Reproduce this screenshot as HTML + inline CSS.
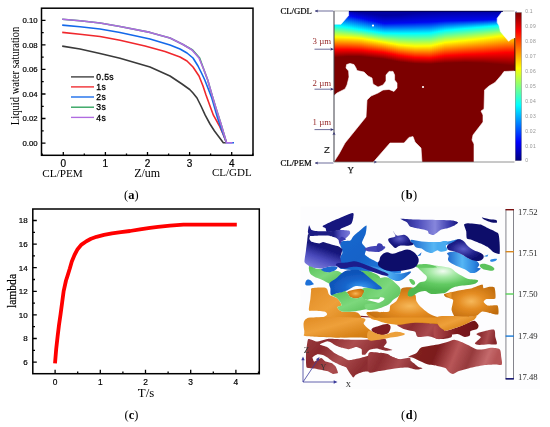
<!DOCTYPE html>
<html><head><meta charset="utf-8"><title>Figure</title>
<style>
html,body{margin:0;padding:0;background:#fff;}
svg{display:block}
.ss{font-family:"Liberation Sans",sans-serif}
.sf{font-family:"Liberation Serif",serif}
.tk{stroke:#000;stroke-width:0.2px}
.cap{font-family:"Liberation Serif","DejaVu Serif",serif;font-size:12.4px}
</style></head><body>
<svg width="550" height="427" viewBox="0 0 550 427">
<defs>
<linearGradient id="b0" x1="0" y1="0" x2="0" y2="1"><stop offset="0.000" stop-color="#0004c7"/><stop offset="0.051" stop-color="#0008f0"/><stop offset="0.237" stop-color="#00ffff"/><stop offset="0.427" stop-color="#ffff00"/><stop offset="0.631" stop-color="#ff0000"/><stop offset="0.761" stop-color="#7c0000"/></linearGradient>
<linearGradient id="b1" x1="0" y1="0" x2="0" y2="1"><stop offset="0.000" stop-color="#0004c4"/><stop offset="0.054" stop-color="#0008f0"/><stop offset="0.242" stop-color="#00ffff"/><stop offset="0.428" stop-color="#ffff00"/><stop offset="0.631" stop-color="#ff0000"/><stop offset="0.759" stop-color="#7c0000"/></linearGradient>
<linearGradient id="b2" x1="0" y1="0" x2="0" y2="1"><stop offset="0.000" stop-color="#0003c1"/><stop offset="0.058" stop-color="#0008f0"/><stop offset="0.247" stop-color="#00ffff"/><stop offset="0.429" stop-color="#ffff00"/><stop offset="0.631" stop-color="#ff0000"/><stop offset="0.756" stop-color="#7c0000"/></linearGradient>
<linearGradient id="b3" x1="0" y1="0" x2="0" y2="1"><stop offset="0.000" stop-color="#0003be"/><stop offset="0.061" stop-color="#0008f0"/><stop offset="0.252" stop-color="#00ffff"/><stop offset="0.430" stop-color="#ffff00"/><stop offset="0.631" stop-color="#ff0000"/><stop offset="0.754" stop-color="#7c0000"/></linearGradient>
<linearGradient id="b4" x1="0" y1="0" x2="0" y2="1"><stop offset="0.000" stop-color="#0003bb"/><stop offset="0.065" stop-color="#0008f0"/><stop offset="0.258" stop-color="#00ffff"/><stop offset="0.431" stop-color="#ffff00"/><stop offset="0.631" stop-color="#ff0000"/><stop offset="0.752" stop-color="#7c0000"/></linearGradient>
<linearGradient id="b5" x1="0" y1="0" x2="0" y2="1"><stop offset="0.000" stop-color="#0002b8"/><stop offset="0.069" stop-color="#0008f0"/><stop offset="0.263" stop-color="#00ffff"/><stop offset="0.433" stop-color="#ffff00"/><stop offset="0.631" stop-color="#ff0000"/><stop offset="0.749" stop-color="#7c0000"/></linearGradient>
<linearGradient id="b6" x1="0" y1="0" x2="0" y2="1"><stop offset="0.000" stop-color="#0002b5"/><stop offset="0.072" stop-color="#0008f0"/><stop offset="0.268" stop-color="#00ffff"/><stop offset="0.434" stop-color="#ffff00"/><stop offset="0.631" stop-color="#ff0000"/><stop offset="0.747" stop-color="#7c0000"/></linearGradient>
<linearGradient id="b7" x1="0" y1="0" x2="0" y2="1"><stop offset="0.000" stop-color="#0002b1"/><stop offset="0.077" stop-color="#0008f0"/><stop offset="0.273" stop-color="#00ffff"/><stop offset="0.435" stop-color="#ffff00"/><stop offset="0.632" stop-color="#ff0000"/><stop offset="0.746" stop-color="#7c0000"/></linearGradient>
<linearGradient id="b8" x1="0" y1="0" x2="0" y2="1"><stop offset="0.000" stop-color="#0001aa"/><stop offset="0.084" stop-color="#0008f0"/><stop offset="0.279" stop-color="#00ffff"/><stop offset="0.437" stop-color="#ffff00"/><stop offset="0.633" stop-color="#ff0000"/><stop offset="0.746" stop-color="#7c0000"/></linearGradient>
<linearGradient id="b9" x1="0" y1="0" x2="0" y2="1"><stop offset="0.000" stop-color="#0000a3"/><stop offset="0.091" stop-color="#0008f0"/><stop offset="0.285" stop-color="#00ffff"/><stop offset="0.439" stop-color="#ffff00"/><stop offset="0.635" stop-color="#ff0000"/><stop offset="0.746" stop-color="#7c0000"/></linearGradient>
<linearGradient id="b10" x1="0" y1="0" x2="0" y2="1"><stop offset="0.004" stop-color="#0000a0"/><stop offset="0.098" stop-color="#0008f0"/><stop offset="0.291" stop-color="#00ffff"/><stop offset="0.441" stop-color="#ffff00"/><stop offset="0.636" stop-color="#ff0000"/><stop offset="0.746" stop-color="#7c0000"/></linearGradient>
<linearGradient id="b11" x1="0" y1="0" x2="0" y2="1"><stop offset="0.012" stop-color="#0000a0"/><stop offset="0.105" stop-color="#0008f0"/><stop offset="0.296" stop-color="#00ffff"/><stop offset="0.443" stop-color="#ffff00"/><stop offset="0.637" stop-color="#ff0000"/><stop offset="0.746" stop-color="#7c0000"/></linearGradient>
<linearGradient id="b12" x1="0" y1="0" x2="0" y2="1"><stop offset="0.020" stop-color="#0000a0"/><stop offset="0.111" stop-color="#0008f0"/><stop offset="0.302" stop-color="#00ffff"/><stop offset="0.445" stop-color="#ffff00"/><stop offset="0.639" stop-color="#ff0000"/><stop offset="0.746" stop-color="#7c0000"/></linearGradient>
<linearGradient id="b13" x1="0" y1="0" x2="0" y2="1"><stop offset="0.027" stop-color="#0000a0"/><stop offset="0.119" stop-color="#0008f0"/><stop offset="0.307" stop-color="#00ffff"/><stop offset="0.449" stop-color="#ffff00"/><stop offset="0.641" stop-color="#ff0000"/><stop offset="0.748" stop-color="#7c0000"/></linearGradient>
<linearGradient id="b14" x1="0" y1="0" x2="0" y2="1"><stop offset="0.031" stop-color="#0000a0"/><stop offset="0.126" stop-color="#0008f0"/><stop offset="0.312" stop-color="#00ffff"/><stop offset="0.454" stop-color="#ffff00"/><stop offset="0.644" stop-color="#ff0000"/><stop offset="0.751" stop-color="#7c0000"/></linearGradient>
<linearGradient id="b15" x1="0" y1="0" x2="0" y2="1"><stop offset="0.035" stop-color="#0000a0"/><stop offset="0.134" stop-color="#0008f0"/><stop offset="0.317" stop-color="#00ffff"/><stop offset="0.460" stop-color="#ffff00"/><stop offset="0.648" stop-color="#ff0000"/><stop offset="0.754" stop-color="#7c0000"/></linearGradient>
<linearGradient id="b16" x1="0" y1="0" x2="0" y2="1"><stop offset="0.039" stop-color="#0000a0"/><stop offset="0.141" stop-color="#0008f0"/><stop offset="0.322" stop-color="#00ffff"/><stop offset="0.465" stop-color="#ffff00"/><stop offset="0.651" stop-color="#ff0000"/><stop offset="0.758" stop-color="#7c0000"/></linearGradient>
<linearGradient id="b17" x1="0" y1="0" x2="0" y2="1"><stop offset="0.043" stop-color="#0000a0"/><stop offset="0.149" stop-color="#0008f0"/><stop offset="0.327" stop-color="#00ffff"/><stop offset="0.470" stop-color="#ffff00"/><stop offset="0.655" stop-color="#ff0000"/><stop offset="0.761" stop-color="#7c0000"/></linearGradient>
<linearGradient id="b18" x1="0" y1="0" x2="0" y2="1"><stop offset="0.047" stop-color="#0000a0"/><stop offset="0.156" stop-color="#0008f0"/><stop offset="0.332" stop-color="#00ffff"/><stop offset="0.476" stop-color="#ffff00"/><stop offset="0.658" stop-color="#ff0000"/><stop offset="0.765" stop-color="#7c0000"/></linearGradient>
<linearGradient id="b19" x1="0" y1="0" x2="0" y2="1"><stop offset="0.051" stop-color="#0000a0"/><stop offset="0.164" stop-color="#0008f0"/><stop offset="0.337" stop-color="#00ffff"/><stop offset="0.481" stop-color="#ffff00"/><stop offset="0.662" stop-color="#ff0000"/><stop offset="0.768" stop-color="#7c0000"/></linearGradient>
<linearGradient id="b20" x1="0" y1="0" x2="0" y2="1"><stop offset="0.055" stop-color="#0000a0"/><stop offset="0.171" stop-color="#0008f0"/><stop offset="0.342" stop-color="#00ffff"/><stop offset="0.487" stop-color="#ffff00"/><stop offset="0.665" stop-color="#ff0000"/><stop offset="0.772" stop-color="#7c0000"/></linearGradient>
<linearGradient id="b21" x1="0" y1="0" x2="0" y2="1"><stop offset="0.059" stop-color="#0000a0"/><stop offset="0.179" stop-color="#0008f0"/><stop offset="0.347" stop-color="#00ffff"/><stop offset="0.492" stop-color="#ffff00"/><stop offset="0.668" stop-color="#ff0000"/><stop offset="0.775" stop-color="#7c0000"/></linearGradient>
<linearGradient id="b22" x1="0" y1="0" x2="0" y2="1"><stop offset="0.064" stop-color="#0000a0"/><stop offset="0.186" stop-color="#0008f0"/><stop offset="0.352" stop-color="#00ffff"/><stop offset="0.498" stop-color="#ffff00"/><stop offset="0.672" stop-color="#ff0000"/><stop offset="0.778" stop-color="#7c0000"/></linearGradient>
<linearGradient id="b23" x1="0" y1="0" x2="0" y2="1"><stop offset="0.068" stop-color="#0000a0"/><stop offset="0.194" stop-color="#0008f0"/><stop offset="0.357" stop-color="#00ffff"/><stop offset="0.503" stop-color="#ffff00"/><stop offset="0.675" stop-color="#ff0000"/><stop offset="0.782" stop-color="#7c0000"/></linearGradient>
<linearGradient id="b24" x1="0" y1="0" x2="0" y2="1"><stop offset="0.072" stop-color="#0000a0"/><stop offset="0.201" stop-color="#0008f0"/><stop offset="0.361" stop-color="#00ffff"/><stop offset="0.509" stop-color="#ffff00"/><stop offset="0.679" stop-color="#ff0000"/><stop offset="0.785" stop-color="#7c0000"/></linearGradient>
<linearGradient id="b25" x1="0" y1="0" x2="0" y2="1"><stop offset="0.073" stop-color="#0000a0"/><stop offset="0.204" stop-color="#0008f0"/><stop offset="0.364" stop-color="#00ffff"/><stop offset="0.514" stop-color="#ffff00"/><stop offset="0.684" stop-color="#ff0000"/><stop offset="0.790" stop-color="#7c0000"/></linearGradient>
<linearGradient id="b26" x1="0" y1="0" x2="0" y2="1"><stop offset="0.072" stop-color="#0000a0"/><stop offset="0.203" stop-color="#0008f0"/><stop offset="0.365" stop-color="#00ffff"/><stop offset="0.520" stop-color="#ffff00"/><stop offset="0.690" stop-color="#ff0000"/><stop offset="0.796" stop-color="#7c0000"/></linearGradient>
<linearGradient id="b27" x1="0" y1="0" x2="0" y2="1"><stop offset="0.071" stop-color="#0000a0"/><stop offset="0.202" stop-color="#0008f0"/><stop offset="0.365" stop-color="#00ffff"/><stop offset="0.526" stop-color="#ffff00"/><stop offset="0.696" stop-color="#ff0000"/><stop offset="0.802" stop-color="#7c0000"/></linearGradient>
<linearGradient id="b28" x1="0" y1="0" x2="0" y2="1"><stop offset="0.070" stop-color="#0000a0"/><stop offset="0.201" stop-color="#0008f0"/><stop offset="0.366" stop-color="#00ffff"/><stop offset="0.532" stop-color="#ffff00"/><stop offset="0.703" stop-color="#ff0000"/><stop offset="0.808" stop-color="#7c0000"/></linearGradient>
<linearGradient id="b29" x1="0" y1="0" x2="0" y2="1"><stop offset="0.069" stop-color="#0000a0"/><stop offset="0.200" stop-color="#0008f0"/><stop offset="0.367" stop-color="#00ffff"/><stop offset="0.537" stop-color="#ffff00"/><stop offset="0.709" stop-color="#ff0000"/><stop offset="0.815" stop-color="#7c0000"/></linearGradient>
<linearGradient id="b30" x1="0" y1="0" x2="0" y2="1"><stop offset="0.068" stop-color="#0000a0"/><stop offset="0.199" stop-color="#0008f0"/><stop offset="0.367" stop-color="#00ffff"/><stop offset="0.543" stop-color="#ffff00"/><stop offset="0.715" stop-color="#ff0000"/><stop offset="0.821" stop-color="#7c0000"/></linearGradient>
<linearGradient id="b31" x1="0" y1="0" x2="0" y2="1"><stop offset="0.067" stop-color="#0000a0"/><stop offset="0.198" stop-color="#0008f0"/><stop offset="0.368" stop-color="#00ffff"/><stop offset="0.549" stop-color="#ffff00"/><stop offset="0.722" stop-color="#ff0000"/><stop offset="0.827" stop-color="#7c0000"/></linearGradient>
<linearGradient id="b32" x1="0" y1="0" x2="0" y2="1"><stop offset="0.066" stop-color="#0000a0"/><stop offset="0.197" stop-color="#0008f0"/><stop offset="0.369" stop-color="#00ffff"/><stop offset="0.555" stop-color="#ffff00"/><stop offset="0.728" stop-color="#ff0000"/><stop offset="0.833" stop-color="#7c0000"/></linearGradient>
<linearGradient id="b33" x1="0" y1="0" x2="0" y2="1"><stop offset="0.063" stop-color="#0000a0"/><stop offset="0.196" stop-color="#0008f0"/><stop offset="0.369" stop-color="#00ffff"/><stop offset="0.559" stop-color="#ffff00"/><stop offset="0.733" stop-color="#ff0000"/><stop offset="0.838" stop-color="#7c0000"/></linearGradient>
<linearGradient id="b34" x1="0" y1="0" x2="0" y2="1"><stop offset="0.059" stop-color="#0000a0"/><stop offset="0.195" stop-color="#0008f0"/><stop offset="0.369" stop-color="#00ffff"/><stop offset="0.561" stop-color="#ffff00"/><stop offset="0.737" stop-color="#ff0000"/><stop offset="0.841" stop-color="#7c0000"/></linearGradient>
<linearGradient id="b35" x1="0" y1="0" x2="0" y2="1"><stop offset="0.055" stop-color="#0000a0"/><stop offset="0.194" stop-color="#0008f0"/><stop offset="0.369" stop-color="#00ffff"/><stop offset="0.564" stop-color="#ffff00"/><stop offset="0.742" stop-color="#ff0000"/><stop offset="0.845" stop-color="#7c0000"/></linearGradient>
<linearGradient id="b36" x1="0" y1="0" x2="0" y2="1"><stop offset="0.050" stop-color="#0000a0"/><stop offset="0.193" stop-color="#0008f0"/><stop offset="0.369" stop-color="#00ffff"/><stop offset="0.567" stop-color="#ffff00"/><stop offset="0.746" stop-color="#ff0000"/><stop offset="0.848" stop-color="#7c0000"/></linearGradient>
<linearGradient id="b37" x1="0" y1="0" x2="0" y2="1"><stop offset="0.046" stop-color="#0000a0"/><stop offset="0.192" stop-color="#0008f0"/><stop offset="0.369" stop-color="#00ffff"/><stop offset="0.569" stop-color="#ffff00"/><stop offset="0.750" stop-color="#ff0000"/><stop offset="0.852" stop-color="#7c0000"/></linearGradient>
<linearGradient id="b38" x1="0" y1="0" x2="0" y2="1"><stop offset="0.042" stop-color="#0000a0"/><stop offset="0.191" stop-color="#0008f0"/><stop offset="0.369" stop-color="#00ffff"/><stop offset="0.572" stop-color="#ffff00"/><stop offset="0.754" stop-color="#ff0000"/><stop offset="0.855" stop-color="#7c0000"/></linearGradient>
<linearGradient id="b39" x1="0" y1="0" x2="0" y2="1"><stop offset="0.037" stop-color="#0000a0"/><stop offset="0.190" stop-color="#0008f0"/><stop offset="0.369" stop-color="#00ffff"/><stop offset="0.574" stop-color="#ffff00"/><stop offset="0.758" stop-color="#ff0000"/><stop offset="0.859" stop-color="#7c0000"/></linearGradient>
<linearGradient id="b40" x1="0" y1="0" x2="0" y2="1"><stop offset="0.033" stop-color="#0000a0"/><stop offset="0.189" stop-color="#0008f0"/><stop offset="0.369" stop-color="#00ffff"/><stop offset="0.577" stop-color="#ffff00"/><stop offset="0.762" stop-color="#ff0000"/><stop offset="0.862" stop-color="#7c0000"/></linearGradient>
<linearGradient id="b41" x1="0" y1="0" x2="0" y2="1"><stop offset="0.031" stop-color="#0000a0"/><stop offset="0.187" stop-color="#0008f0"/><stop offset="0.368" stop-color="#00ffff"/><stop offset="0.577" stop-color="#ffff00"/><stop offset="0.763" stop-color="#ff0000"/><stop offset="0.863" stop-color="#7c0000"/></linearGradient>
<linearGradient id="b42" x1="0" y1="0" x2="0" y2="1"><stop offset="0.028" stop-color="#0000a0"/><stop offset="0.186" stop-color="#0008f0"/><stop offset="0.368" stop-color="#00ffff"/><stop offset="0.576" stop-color="#ffff00"/><stop offset="0.764" stop-color="#ff0000"/><stop offset="0.864" stop-color="#7c0000"/></linearGradient>
<linearGradient id="b43" x1="0" y1="0" x2="0" y2="1"><stop offset="0.026" stop-color="#0000a0"/><stop offset="0.185" stop-color="#0008f0"/><stop offset="0.367" stop-color="#00ffff"/><stop offset="0.576" stop-color="#ffff00"/><stop offset="0.766" stop-color="#ff0000"/><stop offset="0.865" stop-color="#7c0000"/></linearGradient>
<linearGradient id="b44" x1="0" y1="0" x2="0" y2="1"><stop offset="0.024" stop-color="#0000a0"/><stop offset="0.184" stop-color="#0008f0"/><stop offset="0.366" stop-color="#00ffff"/><stop offset="0.575" stop-color="#ffff00"/><stop offset="0.767" stop-color="#ff0000"/><stop offset="0.866" stop-color="#7c0000"/></linearGradient>
<linearGradient id="b45" x1="0" y1="0" x2="0" y2="1"><stop offset="0.022" stop-color="#0000a0"/><stop offset="0.183" stop-color="#0008f0"/><stop offset="0.366" stop-color="#00ffff"/><stop offset="0.575" stop-color="#ffff00"/><stop offset="0.768" stop-color="#ff0000"/><stop offset="0.867" stop-color="#7c0000"/></linearGradient>
<linearGradient id="b46" x1="0" y1="0" x2="0" y2="1"><stop offset="0.020" stop-color="#0000a0"/><stop offset="0.182" stop-color="#0008f0"/><stop offset="0.365" stop-color="#00ffff"/><stop offset="0.574" stop-color="#ffff00"/><stop offset="0.769" stop-color="#ff0000"/><stop offset="0.868" stop-color="#7c0000"/></linearGradient>
<linearGradient id="b47" x1="0" y1="0" x2="0" y2="1"><stop offset="0.017" stop-color="#0000a0"/><stop offset="0.181" stop-color="#0008f0"/><stop offset="0.364" stop-color="#00ffff"/><stop offset="0.574" stop-color="#ffff00"/><stop offset="0.770" stop-color="#ff0000"/><stop offset="0.868" stop-color="#7c0000"/></linearGradient>
<linearGradient id="b48" x1="0" y1="0" x2="0" y2="1"><stop offset="0.016" stop-color="#0000a0"/><stop offset="0.179" stop-color="#0008f0"/><stop offset="0.361" stop-color="#00ffff"/><stop offset="0.570" stop-color="#ffff00"/><stop offset="0.768" stop-color="#ff0000"/><stop offset="0.868" stop-color="#7c0000"/></linearGradient>
<linearGradient id="b49" x1="0" y1="0" x2="0" y2="1"><stop offset="0.015" stop-color="#0000a0"/><stop offset="0.177" stop-color="#0008f0"/><stop offset="0.355" stop-color="#00ffff"/><stop offset="0.562" stop-color="#ffff00"/><stop offset="0.763" stop-color="#ff0000"/><stop offset="0.866" stop-color="#7c0000"/></linearGradient>
<linearGradient id="b50" x1="0" y1="0" x2="0" y2="1"><stop offset="0.014" stop-color="#0000a0"/><stop offset="0.175" stop-color="#0008f0"/><stop offset="0.349" stop-color="#00ffff"/><stop offset="0.555" stop-color="#ffff00"/><stop offset="0.758" stop-color="#ff0000"/><stop offset="0.863" stop-color="#7c0000"/></linearGradient>
<linearGradient id="b51" x1="0" y1="0" x2="0" y2="1"><stop offset="0.013" stop-color="#0000a0"/><stop offset="0.173" stop-color="#0008f0"/><stop offset="0.343" stop-color="#00ffff"/><stop offset="0.547" stop-color="#ffff00"/><stop offset="0.753" stop-color="#ff0000"/><stop offset="0.861" stop-color="#7c0000"/></linearGradient>
<linearGradient id="b52" x1="0" y1="0" x2="0" y2="1"><stop offset="0.011" stop-color="#0000a0"/><stop offset="0.170" stop-color="#0008f0"/><stop offset="0.337" stop-color="#00ffff"/><stop offset="0.539" stop-color="#ffff00"/><stop offset="0.748" stop-color="#ff0000"/><stop offset="0.859" stop-color="#7c0000"/></linearGradient>
<linearGradient id="b53" x1="0" y1="0" x2="0" y2="1"><stop offset="0.010" stop-color="#0000a0"/><stop offset="0.168" stop-color="#0008f0"/><stop offset="0.331" stop-color="#00ffff"/><stop offset="0.532" stop-color="#ffff00"/><stop offset="0.743" stop-color="#ff0000"/><stop offset="0.857" stop-color="#7c0000"/></linearGradient>
<linearGradient id="b54" x1="0" y1="0" x2="0" y2="1"><stop offset="0.009" stop-color="#0000a0"/><stop offset="0.166" stop-color="#0008f0"/><stop offset="0.326" stop-color="#00ffff"/><stop offset="0.524" stop-color="#ffff00"/><stop offset="0.738" stop-color="#ff0000"/><stop offset="0.855" stop-color="#7c0000"/></linearGradient>
<linearGradient id="b55" x1="0" y1="0" x2="0" y2="1"><stop offset="0.008" stop-color="#0000a0"/><stop offset="0.164" stop-color="#0008f0"/><stop offset="0.320" stop-color="#00ffff"/><stop offset="0.516" stop-color="#ffff00"/><stop offset="0.733" stop-color="#ff0000"/><stop offset="0.852" stop-color="#7c0000"/></linearGradient>
<linearGradient id="b56" x1="0" y1="0" x2="0" y2="1"><stop offset="0.007" stop-color="#0000a0"/><stop offset="0.163" stop-color="#0008f0"/><stop offset="0.316" stop-color="#00ffff"/><stop offset="0.513" stop-color="#ffff00"/><stop offset="0.731" stop-color="#ff0000"/><stop offset="0.852" stop-color="#7c0000"/></linearGradient>
<linearGradient id="b57" x1="0" y1="0" x2="0" y2="1"><stop offset="0.007" stop-color="#0000a0"/><stop offset="0.162" stop-color="#0008f0"/><stop offset="0.313" stop-color="#00ffff"/><stop offset="0.510" stop-color="#ffff00"/><stop offset="0.729" stop-color="#ff0000"/><stop offset="0.851" stop-color="#7c0000"/></linearGradient>
<linearGradient id="b58" x1="0" y1="0" x2="0" y2="1"><stop offset="0.006" stop-color="#0000a0"/><stop offset="0.161" stop-color="#0008f0"/><stop offset="0.310" stop-color="#00ffff"/><stop offset="0.507" stop-color="#ffff00"/><stop offset="0.727" stop-color="#ff0000"/><stop offset="0.850" stop-color="#7c0000"/></linearGradient>
<linearGradient id="b59" x1="0" y1="0" x2="0" y2="1"><stop offset="0.005" stop-color="#0000a0"/><stop offset="0.161" stop-color="#0008f0"/><stop offset="0.307" stop-color="#00ffff"/><stop offset="0.503" stop-color="#ffff00"/><stop offset="0.725" stop-color="#ff0000"/><stop offset="0.849" stop-color="#7c0000"/></linearGradient>
<linearGradient id="b60" x1="0" y1="0" x2="0" y2="1"><stop offset="0.004" stop-color="#0000a0"/><stop offset="0.160" stop-color="#0008f0"/><stop offset="0.303" stop-color="#00ffff"/><stop offset="0.500" stop-color="#ffff00"/><stop offset="0.723" stop-color="#ff0000"/><stop offset="0.848" stop-color="#7c0000"/></linearGradient>
<linearGradient id="b61" x1="0" y1="0" x2="0" y2="1"><stop offset="0.003" stop-color="#0000a0"/><stop offset="0.159" stop-color="#0008f0"/><stop offset="0.300" stop-color="#00ffff"/><stop offset="0.497" stop-color="#ffff00"/><stop offset="0.721" stop-color="#ff0000"/><stop offset="0.848" stop-color="#7c0000"/></linearGradient>
<linearGradient id="b62" x1="0" y1="0" x2="0" y2="1"><stop offset="0.002" stop-color="#0000a0"/><stop offset="0.158" stop-color="#0008f0"/><stop offset="0.297" stop-color="#00ffff"/><stop offset="0.493" stop-color="#ffff00"/><stop offset="0.719" stop-color="#ff0000"/><stop offset="0.847" stop-color="#7c0000"/></linearGradient>
<linearGradient id="b63" x1="0" y1="0" x2="0" y2="1"><stop offset="0.002" stop-color="#0000a0"/><stop offset="0.157" stop-color="#0008f0"/><stop offset="0.293" stop-color="#00ffff"/><stop offset="0.490" stop-color="#ffff00"/><stop offset="0.717" stop-color="#ff0000"/><stop offset="0.846" stop-color="#7c0000"/></linearGradient>
<linearGradient id="b64" x1="0" y1="0" x2="0" y2="1"><stop offset="0.001" stop-color="#0000a0"/><stop offset="0.157" stop-color="#0008f0"/><stop offset="0.290" stop-color="#00ffff"/><stop offset="0.487" stop-color="#ffff00"/><stop offset="0.715" stop-color="#ff0000"/><stop offset="0.845" stop-color="#7c0000"/></linearGradient>
<linearGradient id="b65" x1="0" y1="0" x2="0" y2="1"><stop offset="0.000" stop-color="#0000a0"/><stop offset="0.156" stop-color="#0008f0"/><stop offset="0.287" stop-color="#00ffff"/><stop offset="0.484" stop-color="#ffff00"/><stop offset="0.713" stop-color="#ff0000"/><stop offset="0.844" stop-color="#7c0000"/></linearGradient>
<linearGradient id="b66" x1="0" y1="0" x2="0" y2="1"><stop offset="0.000" stop-color="#0000a0"/><stop offset="0.155" stop-color="#0008f0"/><stop offset="0.284" stop-color="#00ffff"/><stop offset="0.480" stop-color="#ffff00"/><stop offset="0.712" stop-color="#ff0000"/><stop offset="0.845" stop-color="#7c0000"/></linearGradient>
<linearGradient id="b67" x1="0" y1="0" x2="0" y2="1"><stop offset="0.000" stop-color="#0000a0"/><stop offset="0.154" stop-color="#0008f0"/><stop offset="0.281" stop-color="#00ffff"/><stop offset="0.476" stop-color="#ffff00"/><stop offset="0.711" stop-color="#ff0000"/><stop offset="0.846" stop-color="#7c0000"/></linearGradient>
<linearGradient id="b68" x1="0" y1="0" x2="0" y2="1"><stop offset="0.000" stop-color="#0000a0"/><stop offset="0.153" stop-color="#0008f0"/><stop offset="0.279" stop-color="#00ffff"/><stop offset="0.473" stop-color="#ffff00"/><stop offset="0.709" stop-color="#ff0000"/><stop offset="0.847" stop-color="#7c0000"/></linearGradient>
<linearGradient id="b69" x1="0" y1="0" x2="0" y2="1"><stop offset="0.000" stop-color="#0000a0"/><stop offset="0.152" stop-color="#0008f0"/><stop offset="0.276" stop-color="#00ffff"/><stop offset="0.469" stop-color="#ffff00"/><stop offset="0.708" stop-color="#ff0000"/><stop offset="0.848" stop-color="#7c0000"/></linearGradient>
<linearGradient id="b70" x1="0" y1="0" x2="0" y2="1"><stop offset="0.000" stop-color="#0000a0"/><stop offset="0.151" stop-color="#0008f0"/><stop offset="0.273" stop-color="#00ffff"/><stop offset="0.465" stop-color="#ffff00"/><stop offset="0.707" stop-color="#ff0000"/><stop offset="0.849" stop-color="#7c0000"/></linearGradient>
<linearGradient id="b71" x1="0" y1="0" x2="0" y2="1"><stop offset="0.000" stop-color="#0000a0"/><stop offset="0.150" stop-color="#0008f0"/><stop offset="0.270" stop-color="#00ffff"/><stop offset="0.462" stop-color="#ffff00"/><stop offset="0.705" stop-color="#ff0000"/><stop offset="0.850" stop-color="#7c0000"/></linearGradient>
<linearGradient id="b72" x1="0" y1="0" x2="0" y2="1"><stop offset="0.000" stop-color="#0000a0"/><stop offset="0.149" stop-color="#0008f0"/><stop offset="0.268" stop-color="#00ffff"/><stop offset="0.458" stop-color="#ffff00"/><stop offset="0.704" stop-color="#ff0000"/><stop offset="0.851" stop-color="#7c0000"/></linearGradient>
<linearGradient id="b73" x1="0" y1="0" x2="0" y2="1"><stop offset="0.000" stop-color="#0000a0"/><stop offset="0.148" stop-color="#0008f0"/><stop offset="0.265" stop-color="#00ffff"/><stop offset="0.454" stop-color="#ffff00"/><stop offset="0.703" stop-color="#ff0000"/><stop offset="0.852" stop-color="#7c0000"/></linearGradient>
<linearGradient id="b74" x1="0" y1="0" x2="0" y2="1"><stop offset="0.000" stop-color="#0000a0"/><stop offset="0.148" stop-color="#0008f0"/><stop offset="0.262" stop-color="#00ffff"/><stop offset="0.451" stop-color="#ffff00"/><stop offset="0.702" stop-color="#ff0000"/><stop offset="0.852" stop-color="#7c0000"/></linearGradient>
<linearGradient id="b75" x1="0" y1="0" x2="0" y2="1"><stop offset="0.000" stop-color="#0000a0"/><stop offset="0.146" stop-color="#0008f0"/><stop offset="0.259" stop-color="#00ffff"/><stop offset="0.446" stop-color="#ffff00"/><stop offset="0.700" stop-color="#ff0000"/><stop offset="0.855" stop-color="#7c0000"/></linearGradient>
<linearGradient id="b76" x1="0" y1="0" x2="0" y2="1"><stop offset="0.000" stop-color="#0000a0"/><stop offset="0.145" stop-color="#0008f0"/><stop offset="0.257" stop-color="#00ffff"/><stop offset="0.442" stop-color="#ffff00"/><stop offset="0.698" stop-color="#ff0000"/><stop offset="0.858" stop-color="#7c0000"/></linearGradient>
<linearGradient id="b77" x1="0" y1="0" x2="0" y2="1"><stop offset="0.000" stop-color="#0000a0"/><stop offset="0.143" stop-color="#0008f0"/><stop offset="0.254" stop-color="#00ffff"/><stop offset="0.438" stop-color="#ffff00"/><stop offset="0.696" stop-color="#ff0000"/><stop offset="0.861" stop-color="#7c0000"/></linearGradient>
<linearGradient id="b78" x1="0" y1="0" x2="0" y2="1"><stop offset="0.000" stop-color="#0000a0"/><stop offset="0.142" stop-color="#0008f0"/><stop offset="0.251" stop-color="#00ffff"/><stop offset="0.433" stop-color="#ffff00"/><stop offset="0.694" stop-color="#ff0000"/><stop offset="0.864" stop-color="#7c0000"/></linearGradient>
<linearGradient id="b79" x1="0" y1="0" x2="0" y2="1"><stop offset="0.000" stop-color="#0000a0"/><stop offset="0.140" stop-color="#0008f0"/><stop offset="0.248" stop-color="#00ffff"/><stop offset="0.429" stop-color="#ffff00"/><stop offset="0.692" stop-color="#ff0000"/><stop offset="0.867" stop-color="#7c0000"/></linearGradient>
<linearGradient id="b80" x1="0" y1="0" x2="0" y2="1"><stop offset="0.000" stop-color="#0000a0"/><stop offset="0.139" stop-color="#0008f0"/><stop offset="0.245" stop-color="#00ffff"/><stop offset="0.424" stop-color="#ffff00"/><stop offset="0.691" stop-color="#ff0000"/><stop offset="0.870" stop-color="#7c0000"/></linearGradient>
<linearGradient id="b81" x1="0" y1="0" x2="0" y2="1"><stop offset="0.000" stop-color="#0000a0"/><stop offset="0.138" stop-color="#0008f0"/><stop offset="0.242" stop-color="#00ffff"/><stop offset="0.420" stop-color="#ffff00"/><stop offset="0.689" stop-color="#ff0000"/><stop offset="0.872" stop-color="#7c0000"/></linearGradient>
<linearGradient id="b82" x1="0" y1="0" x2="0" y2="1"><stop offset="0.000" stop-color="#0000a0"/><stop offset="0.136" stop-color="#0008f0"/><stop offset="0.239" stop-color="#00ffff"/><stop offset="0.415" stop-color="#ffff00"/><stop offset="0.687" stop-color="#ff0000"/><stop offset="0.875" stop-color="#7c0000"/></linearGradient>
<linearGradient id="b83" x1="0" y1="0" x2="0" y2="1"><stop offset="0.000" stop-color="#0000a0"/><stop offset="0.135" stop-color="#0008f0"/><stop offset="0.237" stop-color="#00ffff"/><stop offset="0.411" stop-color="#ffff00"/><stop offset="0.685" stop-color="#ff0000"/><stop offset="0.878" stop-color="#7c0000"/></linearGradient>
<linearGradient id="b84" x1="0" y1="0" x2="0" y2="1"><stop offset="0.000" stop-color="#0000a0"/><stop offset="0.133" stop-color="#0008f0"/><stop offset="0.234" stop-color="#00ffff"/><stop offset="0.407" stop-color="#ffff00"/><stop offset="0.683" stop-color="#ff0000"/><stop offset="0.881" stop-color="#7c0000"/></linearGradient>
<linearGradient id="b85" x1="0" y1="0" x2="0" y2="1"><stop offset="0.000" stop-color="#0000a0"/><stop offset="0.132" stop-color="#0008f0"/><stop offset="0.231" stop-color="#00ffff"/><stop offset="0.402" stop-color="#ffff00"/><stop offset="0.681" stop-color="#ff0000"/><stop offset="0.884" stop-color="#7c0000"/></linearGradient>
<linearGradient id="b86" x1="0" y1="0" x2="0" y2="1"><stop offset="0.000" stop-color="#0000a0"/><stop offset="0.131" stop-color="#0008f0"/><stop offset="0.228" stop-color="#00ffff"/><stop offset="0.399" stop-color="#ffff00"/><stop offset="0.680" stop-color="#ff0000"/><stop offset="0.887" stop-color="#7c0000"/></linearGradient>
<linearGradient id="b87" x1="0" y1="0" x2="0" y2="1"><stop offset="0.000" stop-color="#0000a0"/><stop offset="0.131" stop-color="#0008f0"/><stop offset="0.226" stop-color="#00ffff"/><stop offset="0.398" stop-color="#ffff00"/><stop offset="0.680" stop-color="#ff0000"/><stop offset="0.891" stop-color="#7c0000"/></linearGradient>
<linearGradient id="b88" x1="0" y1="0" x2="0" y2="1"><stop offset="0.000" stop-color="#0000a0"/><stop offset="0.131" stop-color="#0008f0"/><stop offset="0.224" stop-color="#00ffff"/><stop offset="0.396" stop-color="#ffff00"/><stop offset="0.680" stop-color="#ff0000"/><stop offset="0.895" stop-color="#7c0000"/></linearGradient>
<linearGradient id="b89" x1="0" y1="0" x2="0" y2="1"><stop offset="0.000" stop-color="#0000a0"/><stop offset="0.131" stop-color="#0008f0"/><stop offset="0.222" stop-color="#00ffff"/><stop offset="0.394" stop-color="#ffff00"/><stop offset="0.680" stop-color="#ff0000"/><stop offset="0.900" stop-color="#7c0000"/></linearGradient>
<linearGradient id="b90" x1="0" y1="0" x2="0" y2="1"><stop offset="0.000" stop-color="#0000a0"/><stop offset="0.131" stop-color="#0008f0"/><stop offset="0.221" stop-color="#00ffff"/><stop offset="0.393" stop-color="#ffff00"/><stop offset="0.680" stop-color="#ff0000"/><stop offset="0.902" stop-color="#7c0000"/></linearGradient>
<linearGradient id="jet" x1="0" y1="1" x2="0" y2="0"><stop offset="0" stop-color="#00007f"/><stop offset="0.125" stop-color="#0000ff"/><stop offset="0.375" stop-color="#00ffff"/><stop offset="0.625" stop-color="#ffff00"/><stop offset="0.875" stop-color="#ff0000"/><stop offset="1" stop-color="#7f0000"/></linearGradient>

<linearGradient id="gPur" x1="0.7" y1="0" x2="0.3" y2="1"><stop offset="0" stop-color="#0c0c64"/><stop offset="0.42" stop-color="#17177c"/><stop offset="0.7" stop-color="#4a4abc"/><stop offset="1" stop-color="#7c7cdc"/></linearGradient>
<linearGradient id="gPurB" x1="0" y1="0" x2="1" y2="0"><stop offset="0" stop-color="#1c1c86"/><stop offset="0.6" stop-color="#1a1a82"/><stop offset="0.8" stop-color="#5a5ac6"/><stop offset="1" stop-color="#7a7ad8"/></linearGradient>
<linearGradient id="gPur2" x1="0" y1="0" x2="1" y2="0"><stop offset="0" stop-color="#1a1a84"/><stop offset="0.3" stop-color="#4c4cba"/><stop offset="0.6" stop-color="#8686dc"/><stop offset="0.85" stop-color="#3a3aac"/><stop offset="1" stop-color="#15157c"/></linearGradient>
<radialGradient id="gNvP" cx="0.45" cy="0.45" r="0.55"><stop offset="0" stop-color="#5c5cc8"/><stop offset="0.6" stop-color="#22228c"/><stop offset="1" stop-color="#0c0c6c"/></radialGradient>
<linearGradient id="gBlu" x1="0" y1="0" x2="1" y2="1"><stop offset="0" stop-color="#1a6ad0"/><stop offset="0.5" stop-color="#1462c8"/><stop offset="1" stop-color="#2a86e4"/></linearGradient>
<radialGradient id="gBlu2" cx="0.6" cy="0.7" r="0.6"><stop offset="0" stop-color="#3a9af0"/><stop offset="0.5" stop-color="#1766cc"/><stop offset="1" stop-color="#0f52b8"/></radialGradient>
<linearGradient id="gLb" x1="0" y1="0" x2="1" y2="0"><stop offset="0" stop-color="#1c66cc"/><stop offset="0.45" stop-color="#56b6f4"/><stop offset="0.8" stop-color="#2c86e0"/><stop offset="1" stop-color="#1a5ec0"/></linearGradient>
<radialGradient id="gGrn" cx="0.5" cy="0.2" r="0.6"><stop offset="0" stop-color="#f2fcf2"/><stop offset="0.3" stop-color="#a8eaa8"/><stop offset="0.7" stop-color="#62ca62"/><stop offset="1" stop-color="#50b850"/></radialGradient>
<linearGradient id="gGr2" x1="0" y1="0" x2="1" y2="1"><stop offset="0" stop-color="#58c258"/><stop offset="0.5" stop-color="#7cd87c"/><stop offset="1" stop-color="#52ba52"/></linearGradient>
<linearGradient id="gOr" x1="0" y1="0" x2="1" y2="1"><stop offset="0" stop-color="#e08a22"/><stop offset="0.4" stop-color="#eea03a"/><stop offset="0.75" stop-color="#d88218"/><stop offset="1" stop-color="#c6720e"/></linearGradient>
<radialGradient id="gOr2" cx="0.5" cy="0.5" r="0.6"><stop offset="0" stop-color="#f6b85a"/><stop offset="0.4" stop-color="#e48c22"/><stop offset="1" stop-color="#bc680a"/></radialGradient>
<linearGradient id="gRd" x1="0" y1="0" x2="1" y2="0.2"><stop offset="0" stop-color="#a04044"/><stop offset="0.3" stop-color="#8c2c30"/><stop offset="0.65" stop-color="#aa4a4e"/><stop offset="1" stop-color="#86282c"/></linearGradient>
<linearGradient id="gRd2" x1="0" y1="0" x2="1" y2="0.3"><stop offset="0" stop-color="#8a2a2e"/><stop offset="0.3" stop-color="#c46466"/><stop offset="0.5" stop-color="#882428"/><stop offset="0.8" stop-color="#cc7476"/><stop offset="1" stop-color="#b85456"/></linearGradient>
<linearGradient id="gRd3" x1="0" y1="0" x2="1" y2="0"><stop offset="0" stop-color="#b04c50"/><stop offset="0.5" stop-color="#7c1a1e"/><stop offset="1" stop-color="#701418"/></linearGradient>
<linearGradient id="gRdBig" x1="0" y1="0" x2="1" y2="0.15"><stop offset="0" stop-color="#a04246"/><stop offset="0.16" stop-color="#80201f"/><stop offset="0.34" stop-color="#7c1c1e"/><stop offset="0.55" stop-color="#b85658"/><stop offset="0.72" stop-color="#963a3c"/><stop offset="0.9" stop-color="#c46a6c"/><stop offset="1" stop-color="#b45254"/></linearGradient>
<linearGradient id="gRdL" x1="0" y1="0" x2="1" y2="0.3"><stop offset="0" stop-color="#983a3e"/><stop offset="0.2" stop-color="#8a2a2e"/><stop offset="0.45" stop-color="#ac4e50"/><stop offset="0.7" stop-color="#8c2c30"/><stop offset="1" stop-color="#9c4044"/></linearGradient>
<filter id="soft" x="-5%" y="-5%" width="110%" height="110%"><feGaussianBlur stdDeviation="0.4"/></filter>

</defs>
<rect width="550" height="427" fill="#fff"/>
<g id="pa">
<path d="M62.2,46.1 L80.0,49.0 L100.0,53.5 L120.0,58.2 L150.0,67.0 L170.0,76.0 L182.0,84.0 L189.7,89.5 L193.0,93.0 L197.0,98.0 L201.0,106.0 L205.2,115.2 L210.0,124.0 L214.3,130.8 L219.0,137.0 L223.3,142.8 L226.0,142.8" fill="none" stroke="#3a3a3a" stroke-width="1.6" stroke-linejoin="round"/>
<path d="M62.2,32.4 L80.0,34.2 L100.0,36.5 L120.0,40.3 L145.0,46.0 L165.0,51.5 L180.0,57.0 L187.0,61.0 L193.0,67.0 L199.0,76.0 L203.0,86.0 L206.0,95.0 L210.0,106.0 L213.4,115.2 L219.2,125.5 L223.0,134.0 L226.5,142.8" fill="none" stroke="#f0282d" stroke-width="1.6" stroke-linejoin="round"/>
<path d="M62.2,25.1 L80.0,26.7 L100.0,29.0 L120.0,32.5 L150.0,39.0 L170.0,45.0 L180.0,49.0 L187.0,53.0 L193.0,58.0 L198.0,66.0 L201.5,73.0 L204.8,80.0 L211.8,98.0 L217.5,117.7 L222.0,131.0 L226.5,142.8 L234.0,142.8" fill="none" stroke="#1469ea" stroke-width="1.6" stroke-linejoin="round"/>
<path d="M62.2,19.2 L80.0,20.7 L100.0,23.0 L120.0,26.5 L150.0,32.4 L170.0,38.0 L183.0,44.5 L192.6,50.0 L199.6,58.0 L204.0,70.0 L207.7,80.0 L212.0,95.0 L215.9,107.9 L221.0,124.0 L226.5,142.8" fill="none" stroke="#2ca05a" stroke-width="1.6" stroke-linejoin="round"/>
<path d="M62.2,19.2 L80.0,20.7 L100.0,23.0 L120.0,26.5 L150.0,32.4 L170.0,38.0 L183.0,44.5 L192.0,50.0 L199.0,58.0 L204.0,70.0 L207.7,80.0 L212.0,95.0 L215.9,107.9 L221.0,124.0 L226.5,142.8 L232.5,142.8" fill="none" stroke="#b06be0" stroke-width="1.6" stroke-linejoin="round"/>
<rect x="41.5" y="8.2" width="211.5" height="147.10000000000002" fill="none" stroke="#000" stroke-width="1.5"/>
<path d="M41.5,143.1h4 M41.5,118.5h4 M41.5,94.0h4 M41.5,69.4h4 M41.5,44.9h4 M41.5,20.3h4 M41.5,130.8h2.2 M41.5,106.3h2.2 M41.5,81.7h2.2 M41.5,57.1h2.2 M41.5,32.6h2.2 M63.3,155.3v-3.3 M105.4,155.3v-3.3 M147.5,155.3v-3.3 M189.6,155.3v-3.3 M231.7,155.3v-3.3 M42.2,155.3v-1.9 M84.3,155.3v-1.9 M126.5,155.3v-1.9 M168.6,155.3v-1.9 M210.6,155.3v-1.9 M252.8,155.3v-1.9" stroke="#000" stroke-width="1.3" fill="none"/>
<text x="37.6" y="145.9" class="ss tk" font-size="7.8" text-anchor="end">0.00</text>
<text x="37.6" y="121.3" class="ss tk" font-size="7.8" text-anchor="end">0.02</text>
<text x="37.6" y="96.8" class="ss tk" font-size="7.8" text-anchor="end">0.04</text>
<text x="37.6" y="72.2" class="ss tk" font-size="7.8" text-anchor="end">0.06</text>
<text x="37.6" y="47.7" class="ss tk" font-size="7.8" text-anchor="end">0.08</text>
<text x="37.6" y="23.1" class="ss tk" font-size="7.8" text-anchor="end">0.10</text>
<text x="63.3" y="167" class="ss tk" font-size="10" text-anchor="middle">0</text>
<text x="105.4" y="167" class="ss tk" font-size="10" text-anchor="middle">1</text>
<text x="147.5" y="167" class="ss tk" font-size="10" text-anchor="middle">2</text>
<text x="189.6" y="167" class="ss tk" font-size="10" text-anchor="middle">3</text>
<text x="231.7" y="167" class="ss tk" font-size="10" text-anchor="middle">4</text>
<text x="62.5" y="176.5" class="sf" font-size="11.2" text-anchor="middle">CL/PEM</text>
<text x="147.2" y="177.3" class="sf" font-size="12" text-anchor="middle">Z/um</text>
<text x="231.8" y="175.9" class="sf" font-size="11" text-anchor="middle">CL/GDL</text>
<text transform="translate(19.1,75.9) rotate(-90) scale(0.88,1)" class="sf" font-size="12" text-anchor="middle">Liquid water saturation</text>
<path d="M71,76.9H94" stroke="#3a3a3a" stroke-width="1.35"/>
<text x="96.3" y="80.0" class="ss" font-size="8.6" letter-spacing="0.35" stroke="#000" stroke-width="0.3">0.5s</text>
<path d="M71,86.9H94" stroke="#f0282d" stroke-width="1.35"/>
<text x="96.3" y="90.0" class="ss" font-size="8.6" letter-spacing="0.35" stroke="#000" stroke-width="0.3">1s</text>
<path d="M71,97.0H94" stroke="#1469ea" stroke-width="1.35"/>
<text x="96.3" y="100.1" class="ss" font-size="8.6" letter-spacing="0.35" stroke="#000" stroke-width="0.3">2s</text>
<path d="M71,107.2H94" stroke="#2ca05a" stroke-width="1.35"/>
<text x="96.3" y="110.3" class="ss" font-size="8.6" letter-spacing="0.35" stroke="#000" stroke-width="0.3">3s</text>
<path d="M71,117.4H94" stroke="#b06be0" stroke-width="1.35"/>
<text x="96.3" y="120.5" class="ss" font-size="8.6" letter-spacing="0.35" stroke="#000" stroke-width="0.3">4s</text>
<text x="131.3" y="199.2" class="cap" text-anchor="middle">(<tspan font-weight="bold">a</tspan>)</text>
</g>
<g id="pb">
<rect x="334.0" y="69" width="181.20000000000005" height="93.0" fill="#7c0000"/>
<rect x="334.0" y="11.0" width="2.3" height="61.0" fill="url(#b0)"/>
<rect x="336.0" y="11.0" width="2.3" height="61.0" fill="url(#b1)"/>
<rect x="338.0" y="11.0" width="2.3" height="61.0" fill="url(#b2)"/>
<rect x="340.0" y="11.0" width="2.3" height="61.0" fill="url(#b3)"/>
<rect x="342.0" y="11.0" width="2.3" height="61.0" fill="url(#b4)"/>
<rect x="344.0" y="11.0" width="2.3" height="61.0" fill="url(#b5)"/>
<rect x="346.0" y="11.0" width="2.3" height="61.0" fill="url(#b6)"/>
<rect x="348.0" y="11.0" width="2.3" height="61.0" fill="url(#b7)"/>
<rect x="350.0" y="11.0" width="2.3" height="61.0" fill="url(#b8)"/>
<rect x="352.0" y="11.0" width="2.3" height="61.0" fill="url(#b9)"/>
<rect x="354.0" y="11.0" width="2.3" height="61.0" fill="url(#b10)"/>
<rect x="356.0" y="11.0" width="2.3" height="61.0" fill="url(#b11)"/>
<rect x="358.0" y="11.0" width="2.3" height="61.0" fill="url(#b12)"/>
<rect x="360.0" y="11.0" width="2.3" height="61.0" fill="url(#b13)"/>
<rect x="362.0" y="11.0" width="2.3" height="61.0" fill="url(#b14)"/>
<rect x="364.0" y="11.0" width="2.3" height="61.0" fill="url(#b15)"/>
<rect x="366.0" y="11.0" width="2.3" height="61.0" fill="url(#b16)"/>
<rect x="368.0" y="11.0" width="2.3" height="61.0" fill="url(#b17)"/>
<rect x="370.0" y="11.0" width="2.3" height="61.0" fill="url(#b18)"/>
<rect x="372.0" y="11.0" width="2.3" height="61.0" fill="url(#b19)"/>
<rect x="374.0" y="11.0" width="2.3" height="61.0" fill="url(#b20)"/>
<rect x="376.0" y="11.0" width="2.3" height="61.0" fill="url(#b21)"/>
<rect x="378.0" y="11.0" width="2.3" height="61.0" fill="url(#b22)"/>
<rect x="380.0" y="11.0" width="2.3" height="61.0" fill="url(#b23)"/>
<rect x="382.0" y="11.0" width="2.3" height="61.0" fill="url(#b24)"/>
<rect x="384.0" y="11.0" width="2.3" height="61.0" fill="url(#b25)"/>
<rect x="386.0" y="11.0" width="2.3" height="61.0" fill="url(#b26)"/>
<rect x="388.0" y="11.0" width="2.3" height="61.0" fill="url(#b27)"/>
<rect x="390.0" y="11.0" width="2.3" height="61.0" fill="url(#b28)"/>
<rect x="392.0" y="11.0" width="2.3" height="61.0" fill="url(#b29)"/>
<rect x="394.0" y="11.0" width="2.3" height="61.0" fill="url(#b30)"/>
<rect x="396.0" y="11.0" width="2.3" height="61.0" fill="url(#b31)"/>
<rect x="398.0" y="11.0" width="2.3" height="61.0" fill="url(#b32)"/>
<rect x="400.0" y="11.0" width="2.3" height="61.0" fill="url(#b33)"/>
<rect x="402.0" y="11.0" width="2.3" height="61.0" fill="url(#b34)"/>
<rect x="404.0" y="11.0" width="2.3" height="61.0" fill="url(#b35)"/>
<rect x="406.0" y="11.0" width="2.3" height="61.0" fill="url(#b36)"/>
<rect x="408.0" y="11.0" width="2.3" height="61.0" fill="url(#b37)"/>
<rect x="410.0" y="11.0" width="2.3" height="61.0" fill="url(#b38)"/>
<rect x="412.0" y="11.0" width="2.3" height="61.0" fill="url(#b39)"/>
<rect x="414.0" y="11.0" width="2.3" height="61.0" fill="url(#b40)"/>
<rect x="416.0" y="11.0" width="2.3" height="61.0" fill="url(#b41)"/>
<rect x="418.0" y="11.0" width="2.3" height="61.0" fill="url(#b42)"/>
<rect x="420.0" y="11.0" width="2.3" height="61.0" fill="url(#b43)"/>
<rect x="422.0" y="11.0" width="2.3" height="61.0" fill="url(#b44)"/>
<rect x="424.0" y="11.0" width="2.3" height="61.0" fill="url(#b45)"/>
<rect x="426.0" y="11.0" width="2.3" height="61.0" fill="url(#b46)"/>
<rect x="428.0" y="11.0" width="2.3" height="61.0" fill="url(#b47)"/>
<rect x="430.0" y="11.0" width="2.3" height="61.0" fill="url(#b48)"/>
<rect x="432.0" y="11.0" width="2.3" height="61.0" fill="url(#b49)"/>
<rect x="434.0" y="11.0" width="2.3" height="61.0" fill="url(#b50)"/>
<rect x="436.0" y="11.0" width="2.3" height="61.0" fill="url(#b51)"/>
<rect x="438.0" y="11.0" width="2.3" height="61.0" fill="url(#b52)"/>
<rect x="440.0" y="11.0" width="2.3" height="61.0" fill="url(#b53)"/>
<rect x="442.0" y="11.0" width="2.3" height="61.0" fill="url(#b54)"/>
<rect x="444.0" y="11.0" width="2.3" height="61.0" fill="url(#b55)"/>
<rect x="446.0" y="11.0" width="2.3" height="61.0" fill="url(#b56)"/>
<rect x="448.0" y="11.0" width="2.3" height="61.0" fill="url(#b57)"/>
<rect x="450.0" y="11.0" width="2.3" height="61.0" fill="url(#b58)"/>
<rect x="452.0" y="11.0" width="2.3" height="61.0" fill="url(#b59)"/>
<rect x="454.0" y="11.0" width="2.3" height="61.0" fill="url(#b60)"/>
<rect x="456.0" y="11.0" width="2.3" height="61.0" fill="url(#b61)"/>
<rect x="458.0" y="11.0" width="2.3" height="61.0" fill="url(#b62)"/>
<rect x="460.0" y="11.0" width="2.3" height="61.0" fill="url(#b63)"/>
<rect x="462.0" y="11.0" width="2.3" height="61.0" fill="url(#b64)"/>
<rect x="464.0" y="11.0" width="2.3" height="61.0" fill="url(#b65)"/>
<rect x="466.0" y="11.0" width="2.3" height="61.0" fill="url(#b66)"/>
<rect x="468.0" y="11.0" width="2.3" height="61.0" fill="url(#b67)"/>
<rect x="470.0" y="11.0" width="2.3" height="61.0" fill="url(#b68)"/>
<rect x="472.0" y="11.0" width="2.3" height="61.0" fill="url(#b69)"/>
<rect x="474.0" y="11.0" width="2.3" height="61.0" fill="url(#b70)"/>
<rect x="476.0" y="11.0" width="2.3" height="61.0" fill="url(#b71)"/>
<rect x="478.0" y="11.0" width="2.3" height="61.0" fill="url(#b72)"/>
<rect x="480.0" y="11.0" width="2.3" height="61.0" fill="url(#b73)"/>
<rect x="482.0" y="11.0" width="2.3" height="61.0" fill="url(#b74)"/>
<rect x="484.0" y="11.0" width="2.3" height="61.0" fill="url(#b75)"/>
<rect x="486.0" y="11.0" width="2.3" height="61.0" fill="url(#b76)"/>
<rect x="488.0" y="11.0" width="2.3" height="61.0" fill="url(#b77)"/>
<rect x="490.0" y="11.0" width="2.3" height="61.0" fill="url(#b78)"/>
<rect x="492.0" y="11.0" width="2.3" height="61.0" fill="url(#b79)"/>
<rect x="494.0" y="11.0" width="2.3" height="61.0" fill="url(#b80)"/>
<rect x="496.0" y="11.0" width="2.3" height="61.0" fill="url(#b81)"/>
<rect x="498.0" y="11.0" width="2.3" height="61.0" fill="url(#b82)"/>
<rect x="500.0" y="11.0" width="2.3" height="61.0" fill="url(#b83)"/>
<rect x="502.0" y="11.0" width="2.3" height="61.0" fill="url(#b84)"/>
<rect x="504.0" y="11.0" width="2.3" height="61.0" fill="url(#b85)"/>
<rect x="506.0" y="11.0" width="2.3" height="61.0" fill="url(#b86)"/>
<rect x="508.0" y="11.0" width="2.3" height="61.0" fill="url(#b87)"/>
<rect x="510.0" y="11.0" width="2.3" height="61.0" fill="url(#b88)"/>
<rect x="512.0" y="11.0" width="2.3" height="61.0" fill="url(#b89)"/>
<rect x="514.0" y="11.0" width="2.3" height="61.0" fill="url(#b90)"/>
<polygon points="334.0,10.5 348.6,10.5 348.6,15.5 341.0,24.2 334.0,24.2" fill="#fff" stroke="#fff" stroke-width="0.6" stroke-linejoin="round"/>
<polygon points="503.0,10.5 497.2,18.2 497.2,22.6 499.1,25.8 500.4,31.5 508.6,41.3 511.2,39.2 514.2,38.0 515.6,38.0 515.6,10.5" fill="#fff" stroke="#fff" stroke-width="0.6" stroke-linejoin="round"/>
<polygon points="515.6,71.0 504.0,71.5 501.5,75.0 495.0,82.5 489.0,86.0 484.5,90.0 484.0,109.0 481.0,111.0 483.0,115.0 483.0,122.0 473.0,135.0 472.0,140.0 474.0,144.0 474.0,162.5 515.6,162.5" fill="#fff" stroke="#fff" stroke-width="0.6" stroke-linejoin="round"/>
<polygon points="333.5,96.0 337.0,93.0 345.0,89.0 347.0,85.0 349.0,77.0 348.6,71.0 346.0,68.0 346.6,64.6 350.0,63.4 354.0,64.6 356.0,68.0 357.0,70.6 364.0,72.0 368.0,76.0 372.0,78.0 373.0,84.0 378.0,87.0 383.0,85.0 386.0,81.0 386.0,75.0 389.0,71.4 393.0,71.4 394.6,75.0 394.6,80.0 397.0,83.0 397.0,88.0 394.0,91.4 389.0,89.4 383.0,90.0 378.0,93.0 371.0,96.0 367.0,100.0 366.0,117.0 345.0,143.0 339.0,154.0 333.5,162.5" fill="#fff" stroke="#fff" stroke-width="0.6" stroke-linejoin="round"/>
<polygon points="373.0,162.5 390.0,143.0 404.0,143.0 409.0,137.4 413.0,136.6 415.0,142.0 421.0,148.0 422.0,162.5" fill="#fff" stroke="#fff" stroke-width="0.6" stroke-linejoin="round"/>
<circle cx="373" cy="25.6" r="1.1" fill="#fff"/><circle cx="423" cy="87" r="1.1" fill="#fff"/>
<path d="M334.0,11.0V162.0" stroke="#3e3e48" stroke-width="1" fill="none"/>
<path d="M334.0,162.0H514.5" stroke="#777" stroke-width="0.8" fill="none"/>
<path d="M349,11.3H503" stroke="#000048" stroke-width="1" fill="none"/><path d="M334.0,11.0H349M503,11.0H514.5" stroke="#888" stroke-width="0.6" fill="none"/>
<path d="M514.6,38V71" stroke="#4a1800" stroke-width="0.8" fill="none"/>
<rect x="515.4" y="12.6" width="6" height="148" fill="url(#jet)" stroke="#333" stroke-width="0.3"/>
<text x="525.2" y="162.4" class="ss" font-size="5" fill="#959595" letter-spacing="0.25">0</text>
<text x="525.2" y="147.5" class="ss" font-size="5" fill="#959595" letter-spacing="0.25">0.01</text>
<text x="525.2" y="132.6" class="ss" font-size="5" fill="#959595" letter-spacing="0.25">0.02</text>
<text x="525.2" y="117.7" class="ss" font-size="5" fill="#959595" letter-spacing="0.25">0.03</text>
<text x="525.2" y="102.8" class="ss" font-size="5" fill="#959595" letter-spacing="0.25">0.04</text>
<text x="525.2" y="87.9" class="ss" font-size="5" fill="#959595" letter-spacing="0.25">0.05</text>
<text x="525.2" y="73.0" class="ss" font-size="5" fill="#959595" letter-spacing="0.25">0.06</text>
<text x="525.2" y="58.1" class="ss" font-size="5" fill="#959595" letter-spacing="0.25">0.07</text>
<text x="525.2" y="43.2" class="ss" font-size="5" fill="#959595" letter-spacing="0.25">0.08</text>
<text x="525.2" y="28.3" class="ss" font-size="5" fill="#959595" letter-spacing="0.25">0.09</text>
<text x="525.2" y="13.4" class="ss" font-size="5" fill="#959595" letter-spacing="0.25">0.1</text>
<path d="M333.5,11H315" stroke="#2e2e70" stroke-width="0.7"/><path d="M315,11l3.2,-1.6l-0.9,1.6l0.9,1.6z" fill="#2e2e70"/>
<path d="M314.5,49.2H333.5" stroke="#2e2e70" stroke-width="0.7"/><path d="M333.5,49.2l-3.2,-1.6l0.9,1.6l-0.9,1.6z" fill="#2e2e70"/>
<path d="M314.5,89.2H333.5" stroke="#2e2e70" stroke-width="0.7"/><path d="M333.5,89.2l-3.2,-1.6l0.9,1.6l-0.9,1.6z" fill="#2e2e70"/>
<path d="M314.5,129.6H333.5" stroke="#2e2e70" stroke-width="0.7"/><path d="M333.5,129.6l-3.2,-1.6l0.9,1.6l-0.9,1.6z" fill="#2e2e70"/>
<path d="M333.5,163H315" stroke="#2e2e70" stroke-width="0.7"/><path d="M315,163l3.2,-1.6l-0.9,1.6l0.9,1.6z" fill="#2e2e70"/>
<path d="M334,132l-1.6,3.2l1.6,-0.9l1.6,0.9z" fill="#2e2e70"/>
<path d="M377,162l-3.2,-1.6l0.9,1.6l-0.9,1.6z" fill="#2e2e70"/>
<text x="280.4" y="13.8" class="sf" font-size="8.7" textLength="31.5" lengthAdjust="spacingAndGlyphs" stroke="#000" stroke-width="0.2">CL/GDL</text>
<text x="280.4" y="166" class="sf" font-size="8.7" textLength="31.2" lengthAdjust="spacingAndGlyphs" stroke="#000" stroke-width="0.2">CL/PEM</text>
<text x="321.8" y="43.9" class="sf" font-size="8.8" fill="#962828" text-anchor="middle">3 µm</text>
<text x="321.8" y="86" class="sf" font-size="8.8" fill="#962828" text-anchor="middle">2 µm</text>
<text x="321.8" y="125" class="sf" font-size="8.8" fill="#962828" text-anchor="middle">1 µm</text>
<text x="326.8" y="153" class="ss" font-size="9.5" text-anchor="middle" fill="#222" stroke="#222" stroke-width="0.2">Z</text>
<text x="350.8" y="172.8" class="sf" font-size="8.8" text-anchor="middle" fill="#222" stroke="#222" stroke-width="0.25">Y</text>
<text x="409.3" y="199.3" class="cap" text-anchor="middle" letter-spacing="0.4">(<tspan font-weight="bold">b</tspan>)</text>
</g>
<g id="pc">
<path d="M55.0,363.4 L56.2,349.0 L57.6,336.5 L59.0,325.0 L60.6,314.0 L62.2,302.0 L63.6,291.4 L66.0,280.5 L67.2,276.8 L69.8,268.5 L71.8,261.5 L74.5,255.0 L77.6,249.2 L81.5,244.6 L86.4,241.2 L91.0,238.8 L96.5,236.8 L104.0,234.9 L112.0,233.3 L120.9,232.1 L130.0,231.0 L140.0,229.3 L150.0,227.8 L158.0,226.9 L170.0,225.6 L183.4,224.6 L236.8,224.6" fill="none" stroke="#f00" stroke-width="3.8" stroke-linejoin="round"/>
<rect x="32.8" y="209.0" width="226.5" height="164.7" fill="none" stroke="#000" stroke-width="1.5"/>
<path d="M32.8,362.1h4 M32.8,338.5h4 M32.8,314.9h4 M32.8,291.3h4 M32.8,267.7h4 M32.8,244.1h4 M32.8,220.5h4 M32.8,350.3h2.2 M32.8,326.7h2.2 M32.8,303.1h2.2 M32.8,279.5h2.2 M32.8,255.9h2.2 M32.8,232.3h2.2 M55.1,373.7v-4 M100.3,373.7v-4 M145.5,373.7v-4 M190.7,373.7v-4 M235.9,373.7v-4 M77.7,373.7v-2.2 M122.9,373.7v-2.2 M168.1,373.7v-2.2 M213.3,373.7v-2.2 M258.5,373.7v-2.2" stroke="#000" stroke-width="1.3" fill="none"/>
<text x="27.7" y="364.9" class="ss tk" font-size="8" text-anchor="end">6</text>
<text x="27.7" y="341.3" class="ss tk" font-size="8" text-anchor="end">8</text>
<text x="27.7" y="317.7" class="ss tk" font-size="8" text-anchor="end">10</text>
<text x="27.7" y="294.1" class="ss tk" font-size="8" text-anchor="end">12</text>
<text x="27.7" y="270.5" class="ss tk" font-size="8" text-anchor="end">14</text>
<text x="27.7" y="246.9" class="ss tk" font-size="8" text-anchor="end">16</text>
<text x="27.7" y="223.3" class="ss tk" font-size="8" text-anchor="end">18</text>
<text x="55.1" y="384.9" class="ss tk" font-size="8.4" text-anchor="middle">0</text>
<text x="100.3" y="384.9" class="ss tk" font-size="8.4" text-anchor="middle">1</text>
<text x="145.5" y="384.9" class="ss tk" font-size="8.4" text-anchor="middle">2</text>
<text x="190.7" y="384.9" class="ss tk" font-size="8.4" text-anchor="middle">3</text>
<text x="235.9" y="384.9" class="ss tk" font-size="8.4" text-anchor="middle">4</text>
<text x="146" y="396.8" class="sf" font-size="12.8" text-anchor="middle">T/s</text>
<text transform="translate(16,291) rotate(-90)" class="sf" font-size="11.6" text-anchor="middle" stroke="#000" stroke-width="0.2">lambda</text>
<text x="131.5" y="418.8" class="cap" text-anchor="middle">(<tspan font-weight="bold">c</tspan>)</text>
</g>
<g id="pd">
<rect x="300.5" y="206.5" width="239.5" height="182.5" fill="#fdfdfe"/>
<g filter="url(#soft)"><path d="M308.2,339.1C309.1,338.1 315.3,341.6 316.9,341.6C318.5,341.5 326.6,338.8 328.5,338.7C330.5,338.5 339.4,339.1 341.6,339.2C343.8,339.3 353.3,339.8 356.2,339.8C359.1,339.8 375.7,339.3 378.0,339.2C380.3,339.2 384.6,338.5 385.3,338.8C386.0,339.1 386.8,342.1 386.7,342.7C386.6,343.4 383.4,346.5 383.8,347.1C384.3,347.7 392.4,349.7 392.5,350.0C392.7,350.3 386.6,350.8 385.3,350.7C384.0,350.6 377.8,348.6 376.5,348.5C375.3,348.5 370.2,349.5 369.3,350.0C368.4,350.5 365.8,354.3 365.2,354.7C364.6,355.0 362.3,354.8 362.0,354.4C361.7,353.9 362.0,349.9 361.6,349.3C361.1,348.7 357.2,347.1 356.2,347.1C355.2,347.1 350.1,349.2 348.9,349.3C347.7,349.3 342.7,348.1 341.6,347.8C340.6,347.5 336.6,346.0 335.8,345.6C335.0,345.2 332.2,343.1 331.5,342.7C330.8,342.4 328.0,341.1 327.1,341.3C326.2,341.4 319.8,344.0 319.8,344.5C319.8,344.9 325.9,346.4 327.1,347.1C328.3,347.8 333.2,352.2 334.4,352.9C335.5,353.7 340.5,356.0 341.6,356.5C342.8,357.1 347.4,360.1 348.9,360.2C350.4,360.3 358.8,358.4 360.5,358.0C362.3,357.6 369.3,355.5 370.7,355.1C372.1,354.7 377.2,353.5 378.0,353.3C378.8,353.2 380.1,352.7 380.9,352.8C381.7,352.8 387.3,353.9 388.2,354.2C389.1,354.6 391.6,356.7 392.5,357.1C393.5,357.5 398.4,359.3 399.8,359.3C401.2,359.4 409.2,357.4 410.0,357.9C410.8,358.3 410.8,363.7 410.0,364.4C409.2,365.1 401.6,366.2 399.8,366.6C398.1,366.9 390.3,368.4 388.2,368.8C386.1,369.1 375.6,370.7 373.6,370.9C371.7,371.2 364.9,371.4 363.5,371.7C362.1,372.0 357.0,374.1 356.2,374.6C355.4,375.0 353.9,377.7 353.3,377.5C352.7,377.3 349.5,372.5 348.9,371.7C348.3,370.9 346.8,367.9 346.0,367.3C345.2,366.7 339.8,364.9 338.7,364.4C337.7,363.9 333.8,362.2 332.9,361.6C332.0,361.1 327.9,357.8 327.1,357.3C326.3,356.7 323.5,355.3 322.7,355.1C321.9,354.9 317.7,354.2 316.9,354.4C316.1,354.5 312.8,356.7 312.5,357.3C312.3,357.9 313.7,361.4 314.0,361.6C314.3,361.9 316.3,360.5 316.9,360.2C317.5,359.9 320.6,357.9 321.3,358.0C322.0,358.1 324.8,361.2 325.6,361.6C326.5,362.0 330.6,362.7 331.5,363.1C332.3,363.5 335.3,365.9 335.8,366.7C336.3,367.5 338.2,372.6 338.0,373.1C337.8,373.7 333.8,374.0 332.9,373.9C332.0,373.7 328.4,371.5 327.1,371.1C325.8,370.7 318.5,369.2 316.9,368.9C315.3,368.6 307.6,368.6 306.7,367.5C305.9,366.3 305.9,356.6 306.0,354.4C306.1,352.1 307.3,340.1 308.2,339.1Z" fill="url(#gRdL)"/>
<path d="M371.5,329.6C371.8,327.8 374.7,327.2 378.7,326.0C382.8,324.8 386.4,323.4 388.9,324.5C391.5,325.7 390.7,328.7 389.6,331.1C388.6,333.5 387.4,334.0 384.5,334.7C381.7,335.4 380.3,335.2 377.3,334.0C374.2,332.8 371.1,331.5 371.5,329.6Z" fill="#7e1c20"/>
<polygon points="360.5,315.8 370.7,316.5 370.7,317.6 360.5,317.0" fill="#7e1c20"/>
<path d="M397.6,324.5C399.6,323.6 408.5,322.6 413.6,322.4C418.7,322.1 423.3,322.8 428.2,323.1C433.0,323.3 439.8,322.5 442.7,323.8C445.6,325.2 444.4,329.8 445.6,331.1C446.8,332.4 449.0,330.8 450.0,331.8C451.0,332.8 453.2,335.7 451.5,336.9C449.8,338.1 443.7,339.2 439.8,339.1C435.9,339.0 431.8,336.5 428.2,336.2C424.5,335.8 420.2,337.6 418.0,336.9C415.8,336.2 416.5,332.9 415.1,331.8C413.6,330.7 411.5,331.0 409.3,330.4C407.1,329.8 403.9,329.2 402.0,328.2C400.1,327.2 395.7,325.5 397.6,324.5Z" fill="url(#gRd)"/>
<path d="M440.0,325.3C441.2,325.7 441.9,329.0 442.9,329.6C443.9,330.3 445.1,330.8 447.3,330.4C449.4,330.0 456.0,327.8 458.9,326.7C461.8,325.7 467.0,323.1 469.1,322.4C471.2,321.6 473.6,320.5 474.9,320.9C476.2,321.3 478.3,324.2 478.5,325.3C478.8,326.3 478.2,328.1 477.1,328.9C476.0,329.7 471.5,330.2 470.5,331.1C469.6,332.0 470.6,334.7 469.8,335.5C469.0,336.2 466.4,337.1 464.7,336.9C463.1,336.7 459.6,334.2 457.5,334.0C455.3,333.8 451.1,334.8 448.7,335.5C446.4,336.1 441.9,338.9 440.0,339.1C438.1,339.3 435.0,338.6 434.2,336.9C433.4,335.3 433.4,328.3 434.2,326.7C435.0,325.2 438.8,324.9 440.0,325.3Z" fill="url(#gRd3)"/>
<path d="M476.4,334.0C476.6,333.3 479.9,332.4 482.2,331.8C484.5,331.2 492.1,329.0 493.8,329.6C495.6,330.3 494.9,335.0 495.3,336.9C495.7,338.8 497.7,343.2 496.7,344.2C495.8,345.2 490.3,344.1 488.0,344.2C485.7,344.3 481.0,345.0 479.3,344.9C477.5,344.8 474.9,344.2 474.9,343.5C474.9,342.7 478.5,340.0 479.3,339.1C480.0,338.2 481.1,337.6 480.7,336.9C480.3,336.2 476.2,334.7 476.4,334.0Z" fill="url(#gRd)"/>
<path d="M368.5,353.6C369.5,351.0 373.7,352.1 375.8,352.2C378.0,352.3 382.4,353.8 384.5,354.4C386.7,354.9 389.9,355.9 391.8,356.5C393.8,357.2 396.8,359.0 399.1,359.5C401.4,359.9 407.3,359.7 409.3,360.2C411.2,360.7 412.5,362.2 413.6,363.1C414.8,364.0 416.8,366.0 418.0,366.7C419.2,367.4 422.6,367.8 422.4,368.2C422.2,368.6 418.7,369.7 416.5,369.6C414.4,369.5 409.7,367.6 406.4,367.5C403.1,367.4 395.5,368.4 391.8,368.9C388.1,369.4 381.8,370.7 378.7,371.1C375.6,371.5 369.9,374.1 368.5,371.8C367.2,369.5 367.6,356.3 368.5,353.6Z" fill="url(#gRd)"/>
<path d="M408.5,356.5C408.9,355.9 414.9,354.1 416.5,352.9C418.2,351.7 419.0,348.8 420.9,347.8C422.8,346.8 428.6,346.2 431.1,345.6C433.6,345.1 437.8,344.4 440.0,343.9C442.1,343.4 445.3,342.5 447.2,342.0C449.2,341.5 452.4,339.7 454.5,339.8C456.6,339.9 461.3,342.0 463.2,342.7C465.2,343.5 467.3,344.8 469.1,345.6C470.8,346.5 474.4,348.8 476.3,349.3C478.3,349.8 481.7,349.5 483.6,349.3C485.5,349.1 488.7,347.8 490.9,347.8C493.0,347.8 498.2,348.2 499.6,349.3C501.0,350.3 500.8,353.8 501.1,355.8C501.3,357.9 502.6,363.4 501.8,364.5C501.0,365.7 497.7,364.4 495.2,364.5C492.8,364.6 487.1,364.8 483.6,365.3C480.1,365.8 472.4,367.4 469.1,368.2C465.8,369.0 461.0,370.3 458.9,371.1C456.7,371.9 454.4,373.9 453.1,374.0C451.7,374.1 449.7,372.6 448.7,371.8C447.7,371.0 446.6,368.8 445.8,368.2C445.0,367.6 444.3,367.6 442.7,367.2C441.2,366.8 435.9,365.6 434.0,365.3C432.1,364.9 429.9,365.0 428.2,364.5C426.4,364.1 422.8,362.5 420.9,361.6C419.0,360.8 415.3,358.7 413.6,358.0C412.0,357.3 408.2,357.2 408.5,356.5Z" fill="url(#gRdBig)"/>
<path d="M311.8,288.2C313.4,287.7 320.7,287.4 322.7,287.5C324.8,287.6 326.2,287.9 327.1,288.9C328.0,289.9 327.9,293.5 329.3,294.7C330.6,296.0 335.6,297.0 337.3,298.4C338.9,299.7 341.6,303.7 341.6,304.9C341.6,306.1 337.3,306.2 337.3,307.1C337.3,308.0 339.1,310.8 341.6,311.5C344.2,312.1 353.7,311.6 356.2,312.2C358.7,312.8 359.6,314.2 360.5,315.8C361.5,317.4 362.7,322.0 363.5,324.0C364.2,325.9 366.6,328.9 366.4,330.4C366.2,331.8 365.3,333.8 362.0,334.7C358.7,335.7 349.0,337.4 341.6,337.6C334.3,337.8 311.7,336.8 306.7,336.2C301.8,335.6 304.5,334.9 304.5,333.3C304.5,331.6 306.3,326.0 306.7,324.0C307.1,321.9 306.5,318.8 307.5,318.0C308.4,317.2 312.0,318.1 314.0,318.0C316.0,317.9 321.0,317.8 322.7,317.3C324.5,316.8 326.9,315.1 327.1,314.4C327.3,313.6 326.1,311.9 324.2,311.5C322.2,311.0 314.6,310.9 312.5,310.7C310.5,310.5 309.2,311.6 308.9,310.0C308.6,308.4 310.1,300.9 310.4,298.4C310.7,295.8 310.9,292.4 311.1,291.1C311.3,289.7 310.3,288.7 311.8,288.2Z" fill="url(#gOr)"/>
<path d="M308.2,318.0C315.8,316.1 354.6,317.2 362.0,318.0C369.4,318.8 362.7,322.5 363.5,323.8C364.2,325.2 366.5,327.0 367.8,328.2C369.2,329.3 372.1,331.7 373.6,332.5C375.2,333.4 378.7,334.0 379.5,334.7C380.2,335.5 382.6,338.0 379.5,338.4C376.4,338.8 362.2,337.8 356.2,337.6C350.2,337.4 339.2,337.2 334.4,336.9C329.5,336.6 323.5,335.7 319.8,335.5C316.1,335.2 308.8,335.1 306.7,334.7C304.7,334.3 304.4,334.8 304.5,332.5C304.7,330.3 300.5,319.9 308.2,318.0Z" fill="url(#gOr)"/>
<path d="M347.5,291.8C348.8,290.9 351.8,290.2 354.7,289.6C357.6,289.1 360.1,288.6 362.0,288.9C363.9,289.2 364.2,289.6 364.2,291.1C364.2,292.5 363.6,294.7 362.0,296.2C360.4,297.6 358.5,298.2 356.2,298.4C353.9,298.5 352.0,297.8 350.4,296.9C348.8,296.0 348.8,295.0 348.2,294.0C347.6,293.0 346.1,292.7 347.5,291.8Z" fill="url(#gOr2)"/>
<path d="M366.4,312.9C366.8,312.0 371.9,311.6 373.6,311.5C375.4,311.4 378.7,311.2 379.5,312.2C380.2,313.2 380.6,318.2 379.5,319.0C378.3,319.8 372.5,318.8 370.7,318.0C369.0,317.2 366.0,313.8 366.4,312.9Z" fill="#e08a20"/>
<path d="M402.0,288.2C403.7,287.1 410.6,287.1 412.2,287.5C413.7,287.8 414.1,289.9 413.6,291.1C413.2,292.3 408.4,295.7 408.5,296.2C408.7,296.7 414.0,294.0 415.1,294.7C416.2,295.4 415.8,299.6 416.5,301.3C417.3,302.9 419.4,305.5 420.9,307.1C422.5,308.6 425.9,311.6 428.2,312.9C430.5,314.3 435.3,316.5 438.4,317.3C441.5,318.0 449.7,318.0 451.5,318.7C453.2,319.5 452.6,322.4 451.5,323.1C450.3,323.8 445.8,324.2 442.7,324.3C439.6,324.3 432.1,323.6 428.2,323.4C424.3,323.2 417.5,322.6 413.6,322.8C409.8,323.0 402.2,324.8 399.1,324.8C396.0,324.8 392.5,323.4 390.4,322.8C388.2,322.2 385.0,320.8 383.1,320.2C381.2,319.5 378.0,319.0 375.8,318.0C373.7,317.0 366.6,313.2 366.9,312.5C367.3,311.7 375.8,312.3 378.7,312.2C381.7,312.0 387.4,312.3 388.9,311.5C390.5,310.6 389.4,307.0 390.4,305.6C391.3,304.3 395.0,302.6 396.2,301.3C397.3,299.9 398.3,297.2 399.1,295.5C399.9,293.7 400.3,289.2 402.0,288.2Z" fill="url(#gOr2)"/>
<path d="M374.4,318.0C384.1,317.6 441.2,317.4 451.5,318.0C461.7,318.6 452.6,321.6 451.5,322.4C450.3,323.1 445.8,323.7 442.7,323.8C439.6,323.9 432.1,323.3 428.2,323.1C424.3,322.9 417.5,322.2 413.6,322.4C409.8,322.6 402.4,324.4 399.1,324.5C395.8,324.7 391.6,324.3 388.9,323.8C386.2,323.3 380.7,321.7 378.7,320.9C376.8,320.1 364.7,318.4 374.4,318.0Z" fill="#e89428"/>
<path d="M368.5,331.1C370.3,329.9 374.1,333.3 377.3,334.0C380.5,334.7 381.6,335.0 384.5,334.7C387.5,334.4 389.2,333.1 391.8,332.5C394.4,332.0 395.0,331.5 397.6,331.8C400.3,332.1 404.6,333.1 404.9,334.0C405.2,334.9 402.0,335.5 399.1,336.2C396.2,336.9 394.4,336.9 390.4,337.6C386.3,338.4 383.1,339.4 378.7,339.8C374.4,340.3 370.6,341.6 368.5,339.8C366.5,338.1 366.8,332.3 368.5,331.1Z" fill="#eca03a"/>
<path d="M444.4,294.0C445.7,293.3 456.1,290.9 458.9,290.4C461.7,289.8 469.7,288.8 472.0,288.2C474.3,287.6 481.0,284.5 482.2,284.5C483.3,284.5 482.9,288.0 483.6,288.2C484.4,288.4 488.4,286.8 489.5,286.7C490.5,286.7 494.0,286.3 494.5,287.5C495.1,288.6 496.1,297.2 495.3,298.4C494.5,299.5 487.7,298.7 486.5,299.1C485.4,299.5 483.5,301.3 483.6,302.0C483.8,302.7 486.6,305.3 488.0,305.6C489.4,306.0 496.4,304.8 497.5,305.6C498.5,306.5 499.0,313.6 498.2,314.4C497.4,315.1 491.1,313.2 489.5,312.9C487.9,312.6 483.5,311.2 482.2,311.5C480.9,311.7 478.0,315.2 476.4,315.8C474.8,316.4 468.2,317.1 466.2,317.3C464.1,317.5 457.5,318.7 456.0,318.0C454.5,317.3 451.9,311.8 451.6,310.0C451.3,308.2 453.7,301.1 453.1,299.8C452.5,298.5 446.7,297.5 445.8,296.9C444.9,296.3 443.1,294.7 444.4,294.0Z" fill="url(#gOr2)"/>
<path d="M456.0,318.0C458.3,317.7 463.5,317.6 466.2,317.3C468.9,317.0 475.4,315.4 476.4,315.8C477.3,316.2 475.0,319.5 473.5,320.2C471.9,320.9 467.2,320.4 464.7,320.9C462.2,321.4 457.8,323.3 454.5,324.0C451.2,324.6 442.3,326.5 440.0,326.0C437.7,325.5 435.9,321.1 437.1,320.2C438.3,319.3 446.2,319.7 448.7,319.5C451.2,319.2 453.7,318.3 456.0,318.0Z" fill="#e08a20"/>
<path d="M438.5,316.5C443.2,315.5 469.4,316.5 473.5,317.3C477.5,318.0 471.0,321.1 469.1,322.4C467.2,323.6 461.8,325.7 458.9,326.7C456.0,327.8 449.4,330.0 447.3,330.4C445.1,330.8 444.1,330.3 442.9,329.6C441.7,329.0 439.1,327.0 438.5,325.3C438.0,323.5 433.9,317.6 438.5,316.5Z" fill="url(#gOr)"/>
<polygon points="445.6,294.7 451.5,291.8 451.5,299.1" fill="#e8982e"/>
<path d="M309.6,264.9C310.8,264.2 312.8,267.7 315.5,268.5C318.1,269.4 320.4,268.5 322.7,269.3C325.1,270.0 324.5,271.9 327.1,272.2C329.7,272.5 332.9,270.6 335.8,270.7C338.7,270.9 339.9,271.9 341.6,272.9C343.4,273.9 345.4,274.5 344.5,275.8C343.7,277.1 339.9,277.9 337.3,279.5C334.7,281.1 333.5,283.2 331.5,283.8C329.4,284.4 329.1,283.2 327.1,282.4C325.1,281.5 323.9,280.6 321.3,279.5C318.7,278.3 316.3,278.0 314.0,276.5C311.7,275.1 310.5,274.5 309.6,272.2C308.8,269.9 308.5,265.6 309.6,264.9Z" fill="url(#gGr2)"/>
<polygon points="309.6,263.2 313.3,269.0 308.9,269.0" fill="#5cc65c"/>
<path d="M330.7,294.7C330.7,293.9 335.0,293.9 337.3,293.3C339.6,292.7 342.7,291.0 344.5,291.1C346.4,291.2 347.2,293.0 348.2,294.0C349.2,295.0 349.0,296.2 350.4,296.9C351.7,297.6 354.2,298.4 356.2,298.4C358.1,298.4 360.3,296.7 362.0,296.9C363.7,297.2 363.5,298.7 366.4,299.8C369.3,300.9 377.3,302.2 379.5,303.5C381.6,304.7 380.9,306.5 379.5,307.4C378.0,308.2 373.6,308.1 370.7,308.5C367.8,309.0 364.9,309.5 362.0,310.0C359.1,310.5 356.7,311.2 353.3,311.5C349.9,311.7 344.3,312.2 341.6,311.5C339.0,310.7 337.3,308.2 337.3,307.1C337.3,306.0 341.6,306.4 341.6,304.9C341.6,303.5 339.1,300.1 337.3,298.4C335.5,296.7 330.7,295.6 330.7,294.7Z" fill="url(#gGr2)"/>
<path d="M359.1,269.3C360.1,269.0 364.4,269.5 367.8,270.7C371.2,271.9 377.5,274.0 379.5,276.5C381.4,279.1 380.4,285.3 379.5,286.0C378.5,286.7 375.6,282.2 373.6,280.9C371.7,279.6 369.8,279.5 367.8,278.0C365.9,276.5 363.5,273.6 362.0,272.2C360.5,270.7 358.1,269.5 359.1,269.3Z" fill="#62c862"/>
<path d="M362.0,288.9C362.6,288.3 364.9,287.6 367.8,287.5C370.7,287.3 377.5,286.4 379.5,288.2C381.4,290.0 380.9,296.5 379.5,298.4C378.0,300.2 372.9,298.8 370.7,299.1C368.5,299.3 367.8,300.2 366.4,299.8C364.9,299.5 362.4,298.4 362.0,296.9C361.6,295.5 364.2,292.4 364.2,291.1C364.2,289.8 361.4,289.5 362.0,288.9Z" fill="#6ed06e"/>
<path d="M370.0,272.2C371.5,271.5 374.8,277.2 377.3,278.0C379.7,278.8 382.4,277.2 384.5,277.3C386.7,277.4 388.4,277.6 390.4,278.7C392.3,279.8 394.5,282.1 396.2,283.8C397.9,285.5 400.1,287.0 400.5,288.9C401.0,290.8 400.3,293.6 399.1,295.5C397.9,297.3 395.0,298.4 393.3,299.8C391.6,301.3 391.3,302.7 388.9,304.2C386.5,305.6 381.9,307.6 378.7,308.5C375.6,309.5 372.2,310.0 370.0,310.0C367.8,310.0 366.4,309.5 365.6,308.5C364.9,307.6 363.5,305.2 365.6,304.2C367.8,303.2 375.6,303.7 378.7,302.7C381.9,301.8 384.8,299.3 384.5,298.4C384.3,297.4 380.2,297.0 377.3,296.9C374.4,296.8 368.8,298.8 367.1,297.6C365.4,296.4 365.2,291.2 367.1,289.6C369.0,288.1 377.3,289.2 378.7,288.2C380.2,287.2 377.5,284.8 375.8,283.8C374.1,282.8 369.5,284.3 368.5,282.4C367.6,280.4 368.5,272.9 370.0,272.2Z" fill="url(#gGr2)"/>
<path d="M418.0,266.4C419.0,265.2 423.1,264.7 428.2,264.9C433.3,265.1 444.1,266.3 448.7,267.5C453.3,268.7 453.8,270.8 456.0,272.2C458.1,273.6 459.8,274.7 461.8,275.8C463.7,276.9 464.9,278.0 467.6,278.7C470.3,279.5 476.6,279.3 477.8,280.2C479.0,281.0 476.8,283.0 474.9,283.8C472.9,284.7 468.8,284.9 466.1,285.3C463.5,285.6 461.3,285.5 458.9,286.0C456.4,286.5 453.8,287.1 451.6,288.2C449.4,289.3 447.3,291.7 445.8,292.5C444.3,293.4 445.2,293.0 442.7,293.3C440.3,293.5 434.0,294.4 431.1,294.0C428.2,293.6 427.5,291.3 425.3,291.1C423.1,290.8 420.2,291.7 418.0,292.5C415.8,293.4 413.9,295.7 412.2,296.2C410.5,296.7 408.3,296.5 407.8,295.5C407.3,294.4 408.1,291.1 409.3,289.6C410.5,288.2 413.4,287.9 415.1,286.7C416.8,285.5 417.8,283.3 419.5,282.4C421.2,281.4 424.1,281.9 425.3,280.9C426.5,279.9 427.2,278.0 426.7,276.5C426.2,275.1 423.8,273.9 422.4,272.2C420.9,270.5 417.0,267.6 418.0,266.4Z" fill="url(#gGrn)"/>
<path d="M409.3,279.5C409.6,278.6 412.5,279.3 413.6,280.2C414.8,281.1 415.4,282.9 415.1,283.8C414.8,284.7 413.3,285.4 412.2,284.5C411.0,283.7 409.0,280.3 409.3,279.5Z" fill="#62c862"/>
<path d="M480.0,264.9C481.0,263.9 483.3,263.5 486.5,264.2C489.8,264.9 492.5,266.3 493.8,267.8C495.2,269.3 494.1,270.2 492.4,270.7C490.7,271.2 488.9,270.5 486.5,270.0C484.2,269.5 483.7,269.7 482.2,268.5C480.7,267.4 479.0,265.9 480.0,264.9Z" fill="#5cc25c"/>
<path d="M417.3,264.6C418.4,264.2 423.9,263.8 426.0,263.9C428.1,264.0 431.9,264.9 433.3,265.4C434.6,265.8 438.3,267.3 436.2,267.5C434.0,267.8 419.8,267.9 417.3,267.5C414.8,267.2 416.1,265.1 417.3,264.6Z" fill="#62c862"/>
<path d="M366.4,225.4C367.0,225.7 366.1,232.3 365.6,234.1C365.2,235.8 361.9,241.4 362.0,242.8C362.1,244.3 366.1,247.5 366.4,248.6C366.7,249.8 364.5,253.4 364.9,254.5C365.3,255.5 369.3,257.9 370.7,258.8C372.2,259.7 377.7,262.5 379.5,263.2C381.2,263.9 386.1,265.5 388.2,266.1C390.2,266.7 398.7,268.3 399.8,269.0C401.0,269.7 401.9,273.1 399.8,273.4C397.8,273.7 385.3,272.3 379.5,271.9C373.6,271.5 345.6,269.9 341.6,269.0C337.6,268.1 339.6,264.3 339.5,263.2C339.3,262.0 339.9,258.4 340.2,257.4C340.5,256.3 342.2,253.9 342.4,253.0C342.5,252.1 341.9,249.4 341.6,248.6C341.4,247.8 340.2,245.7 340.2,245.0C340.2,244.3 340.6,241.8 341.6,241.4C342.7,240.9 349.2,241.1 350.4,240.6C351.5,240.1 352.4,237.2 353.3,236.3C354.1,235.3 357.8,232.3 359.1,231.2C360.4,230.1 365.7,225.1 366.4,225.4Z" fill="url(#gBlu)"/>
<path d="M329.6,283.1C330.7,281.3 334.5,279.7 336.9,277.7C339.3,275.8 341.8,272.8 344.2,271.5C346.6,270.2 349.0,270.3 351.5,270.0C353.9,269.8 356.5,269.5 358.7,270.0C360.9,270.6 362.6,272.0 364.5,273.4C366.5,274.8 368.4,276.8 370.4,278.5C372.3,280.1 374.2,281.5 376.2,283.1C378.1,284.8 382.0,287.3 382.0,288.3C382.0,289.4 378.8,289.5 376.2,289.4C373.5,289.2 369.4,288.0 366.0,287.5C362.6,286.9 359.0,285.5 355.8,286.0C352.7,286.5 350.2,289.2 347.1,290.4C343.9,291.6 339.6,292.6 336.9,293.3C334.2,294.0 332.2,295.5 331.1,294.7C330.0,294.0 330.6,290.6 330.4,288.6C330.1,286.7 328.5,284.9 329.6,283.1Z" fill="url(#gBlu2)"/>
<path d="M321.3,269.3C321.9,268.1 326.8,266.8 330.0,266.4C333.2,265.9 336.4,266.2 337.3,267.1C338.1,268.0 336.4,269.7 334.4,270.7C332.3,271.7 329.7,272.5 327.1,272.2C324.5,271.9 320.7,270.4 321.3,269.3Z" fill="#1a6ad0"/>
<path d="M306.0,280.9C306.6,279.7 307.6,279.2 308.9,279.5C310.2,279.7 311.7,281.3 312.5,282.4C313.4,283.4 314.6,284.0 313.3,284.5C312.0,285.1 307.5,286.0 306.0,285.3C304.5,284.5 305.4,282.1 306.0,280.9Z" fill="#1c70d8"/>
<path d="M367.1,265.6C369.4,265.1 374.7,266.8 378.7,267.8C382.8,268.8 383.4,269.6 387.5,270.7C391.5,271.9 394.4,273.5 399.1,273.6C403.7,273.8 409.3,270.9 410.7,271.5C412.2,272.0 408.7,274.7 406.4,276.5C404.0,278.4 402.0,280.3 399.1,280.9C396.2,281.5 394.7,280.6 391.8,279.5C388.9,278.3 387.5,276.5 384.5,275.1C381.6,273.6 380.8,273.1 377.3,272.2C373.8,271.3 369.1,272.0 367.1,270.7C365.1,269.4 364.8,266.2 367.1,265.6Z" fill="url(#gLb)"/>
<path d="M410.7,239.9C412.1,239.4 417.4,241.0 421.6,241.4C425.9,241.7 431.8,242.1 436.2,242.1C440.5,242.1 443.9,241.8 447.8,241.4C451.7,240.9 457.3,238.9 459.5,239.2C461.6,239.5 463.1,242.1 460.9,243.1C458.7,244.1 449.3,244.1 446.4,245.0C443.5,245.9 445.2,247.7 443.5,248.6C441.8,249.6 438.1,250.1 436.2,250.8C434.2,251.5 433.5,252.9 431.8,253.0C430.1,253.1 427.7,252.3 426.0,251.5C424.3,250.8 423.3,249.4 421.6,248.6C419.9,247.9 417.2,247.9 415.8,247.2C414.5,246.5 414.5,245.5 413.6,244.3C412.8,243.1 409.4,240.4 410.7,239.9Z" fill="url(#gLb)"/>
<polygon points="417.0,256.2 421.6,252.3 420.5,255.6" fill="#1c6ad0"/>
<path d="M440.0,242.1C442.0,240.9 446.1,240.6 447.3,241.4C448.4,242.1 445.8,244.0 445.8,245.7C445.8,247.5 448.4,248.9 447.3,250.1C446.1,251.3 442.0,252.1 440.0,251.5C438.0,251.0 437.1,249.1 437.1,247.2C437.1,245.3 438.0,243.3 440.0,242.1Z" fill="#48acf0"/>
<path d="M447.3,253.0C448.2,252.3 452.1,251.3 454.5,251.5C457.0,251.8 459.4,253.2 461.8,254.5C464.2,255.7 466.7,257.7 469.1,258.8C471.5,259.9 474.7,260.0 476.4,261.0C478.1,262.0 479.1,263.5 479.3,264.6C479.5,265.8 477.3,267.2 477.5,267.8C477.8,268.5 480.9,267.8 480.7,268.6C480.5,269.3 478.1,271.5 476.4,272.2C474.7,272.9 472.5,273.4 470.5,272.9C468.6,272.4 467.2,270.5 464.7,269.3C462.3,268.1 458.4,266.8 456.0,265.7C453.6,264.5 451.5,263.5 450.2,262.5C448.8,261.4 448.2,260.6 448.0,259.5C447.8,258.5 448.8,257.0 448.7,255.9C448.6,254.8 446.3,253.7 447.3,253.0Z" fill="url(#gLb)"/>
<path d="M490.9,259.5C492.1,259.0 495.9,258.5 496.7,258.8C497.6,259.1 496.4,260.4 495.3,261.0C494.1,261.6 491.8,262.0 490.9,261.7C490.0,261.4 489.7,260.1 490.9,259.5Z" fill="#2a86e4"/>
<polygon points="483.6,256.2 488.3,254.5 487.3,256.8" fill="#2a86e4"/>
<path d="M322.7,226.1C323.6,225.3 331.4,221.6 334.4,220.3C337.3,219.0 350.7,213.3 352.5,213.0C354.4,212.7 353.4,216.3 353.3,217.4C353.1,218.5 352.3,222.8 351.1,223.9C349.9,225.0 342.9,227.6 341.6,228.3C340.4,228.9 340.2,230.1 338.7,230.5C337.3,230.8 328.4,232.1 327.1,231.9C325.8,231.7 326.1,228.9 325.6,228.3C325.2,227.7 321.9,226.9 322.7,226.1Z" fill="#16167e"/>
<path d="M309.1,225.2C309.3,225.0 310.8,229.2 311.3,229.7C311.8,230.1 314.1,230.7 315.1,230.9C316.1,231.0 322.6,231.3 324.2,231.3C325.7,231.3 333.0,231.0 334.2,230.9C335.5,230.8 339.1,230.1 340.3,230.1C341.5,230.1 348.6,230.4 349.3,230.7C350.1,231.0 350.2,233.1 350.1,233.6C349.9,234.1 348.0,236.4 347.3,236.9C346.7,237.5 343.0,240.3 342.3,240.5C341.6,240.8 339.6,240.6 339.1,240.3C338.6,240.1 337.0,238.3 336.3,237.9C335.5,237.6 331.5,236.1 330.2,235.9C328.9,235.7 321.8,235.5 320.1,235.5C318.5,235.5 311.1,236.2 310.1,235.9C309.1,235.6 307.9,232.9 307.9,232.1C307.8,231.2 308.8,225.4 309.1,225.2Z" fill="url(#gPurB)"/>
<path d="M308.1,234.1C308.3,233.7 309.8,235.3 309.9,235.7C310.0,236.1 309.3,238.7 309.4,239.1C309.5,239.6 310.7,241.2 311.1,241.5C311.5,241.7 313.5,242.3 314.1,242.5C314.7,242.6 318.4,243.5 319.1,243.5C319.9,243.4 322.4,242.0 323.2,242.0C323.9,242.0 327.4,243.2 328.2,243.5C329.0,243.7 332.4,244.7 333.2,245.0C334.1,245.2 338.0,246.1 338.8,246.5C339.5,246.8 342.1,248.7 342.3,249.2C342.5,249.7 341.7,252.5 341.5,253.2C341.3,254.0 340.3,257.5 340.3,258.3C340.3,259.0 341.5,261.7 341.3,262.3C341.1,262.9 339.2,265.7 338.3,266.0C337.4,266.3 331.5,266.1 330.2,266.3C328.9,266.5 323.4,268.4 322.2,268.5C320.9,268.7 316.2,268.2 315.1,268.0C314.1,267.8 309.9,266.5 309.1,266.0C308.2,265.5 304.8,263.3 304.5,262.0C304.3,260.7 305.8,252.0 306.0,250.2C306.3,248.5 307.1,241.4 307.3,240.1C307.4,238.9 307.8,234.5 308.1,234.1Z" fill="url(#gPur)"/>
<path d="M338.7,239.9C338.9,238.8 340.7,236.8 341.6,236.7C342.6,236.6 346.0,238.6 346.0,239.2C346.0,239.8 342.4,240.6 341.6,241.4C340.9,242.1 340.6,245.2 340.2,245.0C339.8,244.8 338.5,241.0 338.7,239.9Z" fill="#3a3aae"/>
<path d="M364.9,248.6C365.8,247.8 367.8,247.0 370.7,246.5C373.6,245.9 376.5,245.6 379.5,245.7C382.4,245.9 385.3,246.0 385.3,247.2C385.3,248.3 382.4,250.7 379.5,251.5C376.5,252.4 373.3,251.7 370.7,251.5C368.1,251.4 367.5,251.4 366.4,250.8C365.2,250.2 364.0,249.5 364.9,248.6Z" fill="#4444b6"/>
<path d="M336.9,263.6C338.8,262.7 343.6,262.9 347.1,262.5C350.6,262.0 351.5,261.1 354.4,261.3C357.3,261.4 359.0,262.4 361.6,263.2C364.3,264.0 364.0,264.0 367.5,265.4C370.9,266.7 375.0,268.3 379.1,270.0C383.2,271.7 386.4,272.6 387.8,273.8C389.3,275.0 388.7,276.0 386.4,275.8C384.0,275.7 380.3,274.2 376.2,272.9C372.1,271.6 369.5,270.5 366.0,269.3C362.5,268.1 361.6,267.5 358.7,267.1C355.8,266.7 354.4,266.8 351.5,267.1C348.5,267.4 346.9,268.6 344.2,268.6C341.4,268.5 339.1,267.8 337.6,266.8C336.2,265.8 335.0,264.5 336.9,263.6Z" fill="#1c1c8c"/>
<path d="M400.5,218.8C401.1,218.6 410.3,219.4 414.4,219.5C418.4,219.7 447.2,220.0 450.7,220.3C454.2,220.5 457.8,222.0 458.1,222.5C458.4,222.9 455.4,224.9 454.5,225.4C453.6,225.8 448.4,227.9 447.2,228.3C446.1,228.6 441.3,229.7 440.5,230.0C439.8,230.3 438.2,231.9 437.6,232.3C437.1,232.8 434.0,235.0 433.3,235.1C432.6,235.2 429.4,234.0 428.9,233.7C428.4,233.3 428.3,231.2 427.5,230.7C426.6,230.3 420.1,228.9 418.7,228.6C417.3,228.2 410.9,226.9 410.0,226.4C409.1,225.9 407.8,223.1 407.1,222.5C406.3,221.8 400.0,219.1 400.5,218.8Z" fill="url(#gPur2)"/>
<path d="M393.3,231.2C393.5,231.1 395.1,234.9 396.9,235.5C398.7,236.2 402.2,234.5 404.2,234.8C406.1,235.2 407.5,236.6 408.5,237.7C409.6,238.8 409.9,240.3 410.7,241.4C411.6,242.5 414.0,243.5 413.6,244.3C413.3,245.0 410.8,245.5 408.5,245.7C406.2,246.0 402.0,245.4 399.8,245.7C397.6,246.1 396.7,247.9 395.5,247.9C394.2,247.9 393.5,246.6 392.5,245.7C391.6,244.9 390.4,243.9 389.6,242.8C388.9,241.7 387.9,240.0 388.2,239.2C388.4,238.3 389.9,238.2 391.1,237.7C392.3,237.2 395.1,237.4 395.5,236.3C395.8,235.2 393.0,231.3 393.3,231.2Z" fill="url(#gNvP)"/>
<path d="M377.3,244.3C378.1,242.8 380.5,243.3 381.6,244.0C382.8,244.7 383.2,246.5 383.1,247.9C382.9,249.3 382.1,250.1 380.9,250.8C379.7,251.5 378.0,252.9 377.3,251.5C376.5,250.2 376.4,245.8 377.3,244.3Z" fill="#3a3aae"/>
<path d="M380.9,255.9C382.4,254.3 384.4,252.7 386.7,252.3C389.1,251.8 389.9,253.9 392.5,253.7C395.2,253.6 396.9,252.4 399.8,251.5C402.7,250.7 404.5,249.4 407.1,249.4C409.7,249.4 410.9,250.2 412.9,251.5C414.9,252.9 416.1,254.2 417.3,255.9C418.4,257.7 418.7,258.5 418.7,260.3C418.7,262.0 418.1,263.2 417.3,264.6C416.4,266.1 416.4,266.5 414.4,267.5C412.3,268.6 410.9,269.0 407.1,269.7C403.3,270.5 399.5,271.0 395.5,271.2C391.4,271.3 389.9,271.3 386.7,270.5C383.5,269.6 381.2,268.3 379.5,266.8C377.7,265.4 378.0,264.5 378.0,263.2C378.0,261.9 378.9,261.7 379.5,260.3C380.0,258.8 379.5,257.5 380.9,255.9Z" fill="#0b0b6b"/>
<path d="M481.9,217.5C482.5,217.4 487.6,218.9 489.5,219.3C491.4,219.6 495.2,219.5 496.1,220.0C497.1,220.4 497.4,222.5 496.7,222.7C496.0,223.0 492.5,222.5 490.9,222.2C489.4,221.8 486.3,220.7 485.1,220.1C483.9,219.5 481.3,217.6 481.9,217.5Z" fill="#0b0b6b"/>
<path d="M464.0,224.6C464.1,224.0 466.3,223.2 467.6,223.2C469.0,223.2 479.1,224.2 480.7,224.6C482.4,225.0 486.6,227.6 488.0,228.3C489.4,229.0 497.3,232.2 498.2,233.4C499.1,234.5 499.5,241.2 499.6,242.8C499.8,244.4 500.1,253.0 499.6,253.7C499.2,254.5 494.7,252.8 493.8,252.3C492.9,251.7 489.0,247.9 488.0,247.2C487.0,246.5 482.0,244.1 480.7,243.5C479.4,243.0 473.1,240.3 472.0,239.9C470.9,239.5 467.4,239.2 466.9,238.5C466.4,237.8 466.4,232.3 466.2,231.2C465.9,230.1 463.9,225.3 464.0,224.6Z" fill="#0b0b6b"/>
<path d="M447.3,245.7C448.1,244.1 450.8,243.4 453.1,242.1C455.4,240.8 456.7,239.3 458.9,239.2C461.1,239.0 462.3,240.1 464.0,241.4C465.7,242.7 465.7,244.0 467.6,245.7C469.5,247.5 470.8,248.6 473.5,250.1C476.1,251.5 478.7,251.8 480.7,253.0C482.8,254.2 483.3,254.6 483.6,255.9C483.9,257.2 483.6,258.5 482.2,259.5C480.7,260.6 479.0,261.1 476.4,261.0C473.7,260.9 472.0,260.1 469.1,258.8C466.2,257.5 464.7,255.9 461.8,254.5C458.9,253.0 457.2,252.4 454.5,251.5C451.9,250.7 450.2,251.3 448.7,250.1C447.3,248.9 446.4,247.3 447.3,245.7Z" fill="url(#gNvP)"/></g>
<path d="M303,382V359M303,382H335M303,382L318,359.5" stroke="#3a3a9a" stroke-width="0.8" fill="none"/>
<path d="M303,356.5l-1.7,3.8h3.4z M337.5,382l-3.8,-1.7v3.4z M319.5,357l-3.6,2.2l2.7,1.9z" fill="#3a3a9a"/>
<text x="306.5" y="353" class="sf" font-size="9" fill="#333" text-anchor="middle">Z</text>
<text x="323.5" y="369.5" class="sf" font-size="8" fill="#333" text-anchor="middle">Y</text>
<text x="348.3" y="386.6" class="sf" font-size="10.5" fill="#333" text-anchor="middle">x</text>
<rect x="505.95" y="209.5" width="7.55" height="169.5" fill="#fff" stroke="#50505c" stroke-width="0.7"/>
<path d="M505.6,209.7H513.9" stroke="#7a1010" stroke-width="1.4"/>
<text x="518.1" y="215.3" class="sf" font-size="8.2" fill="#2a2a2a" textLength="19.6" lengthAdjust="spacingAndGlyphs">17.52</text>
<path d="M505.6,251.7H513.9" stroke="#d88820" stroke-width="1.4"/>
<text x="518.1" y="255.6" class="sf" font-size="8.2" fill="#2a2a2a" textLength="19.6" lengthAdjust="spacingAndGlyphs">17.51</text>
<path d="M505.6,294H513.9" stroke="#58d058" stroke-width="1.4"/>
<text x="518.1" y="296.9" class="sf" font-size="8.2" fill="#2a2a2a" textLength="19.6" lengthAdjust="spacingAndGlyphs">17.50</text>
<path d="M505.6,336.1H513.9" stroke="#1a7ad8" stroke-width="1.4"/>
<text x="518.1" y="338.7" class="sf" font-size="8.2" fill="#2a2a2a" textLength="19.6" lengthAdjust="spacingAndGlyphs">17.49</text>
<path d="M505.6,378.8H513.9" stroke="#0a0a70" stroke-width="1.4"/>
<text x="518.1" y="380.0" class="sf" font-size="8.2" fill="#2a2a2a" textLength="19.6" lengthAdjust="spacingAndGlyphs">17.48</text>
<text x="409.3" y="418.9" class="cap" text-anchor="middle" letter-spacing="0.4">(<tspan font-weight="bold">d</tspan>)</text>
</g>
</svg>
</body></html>
